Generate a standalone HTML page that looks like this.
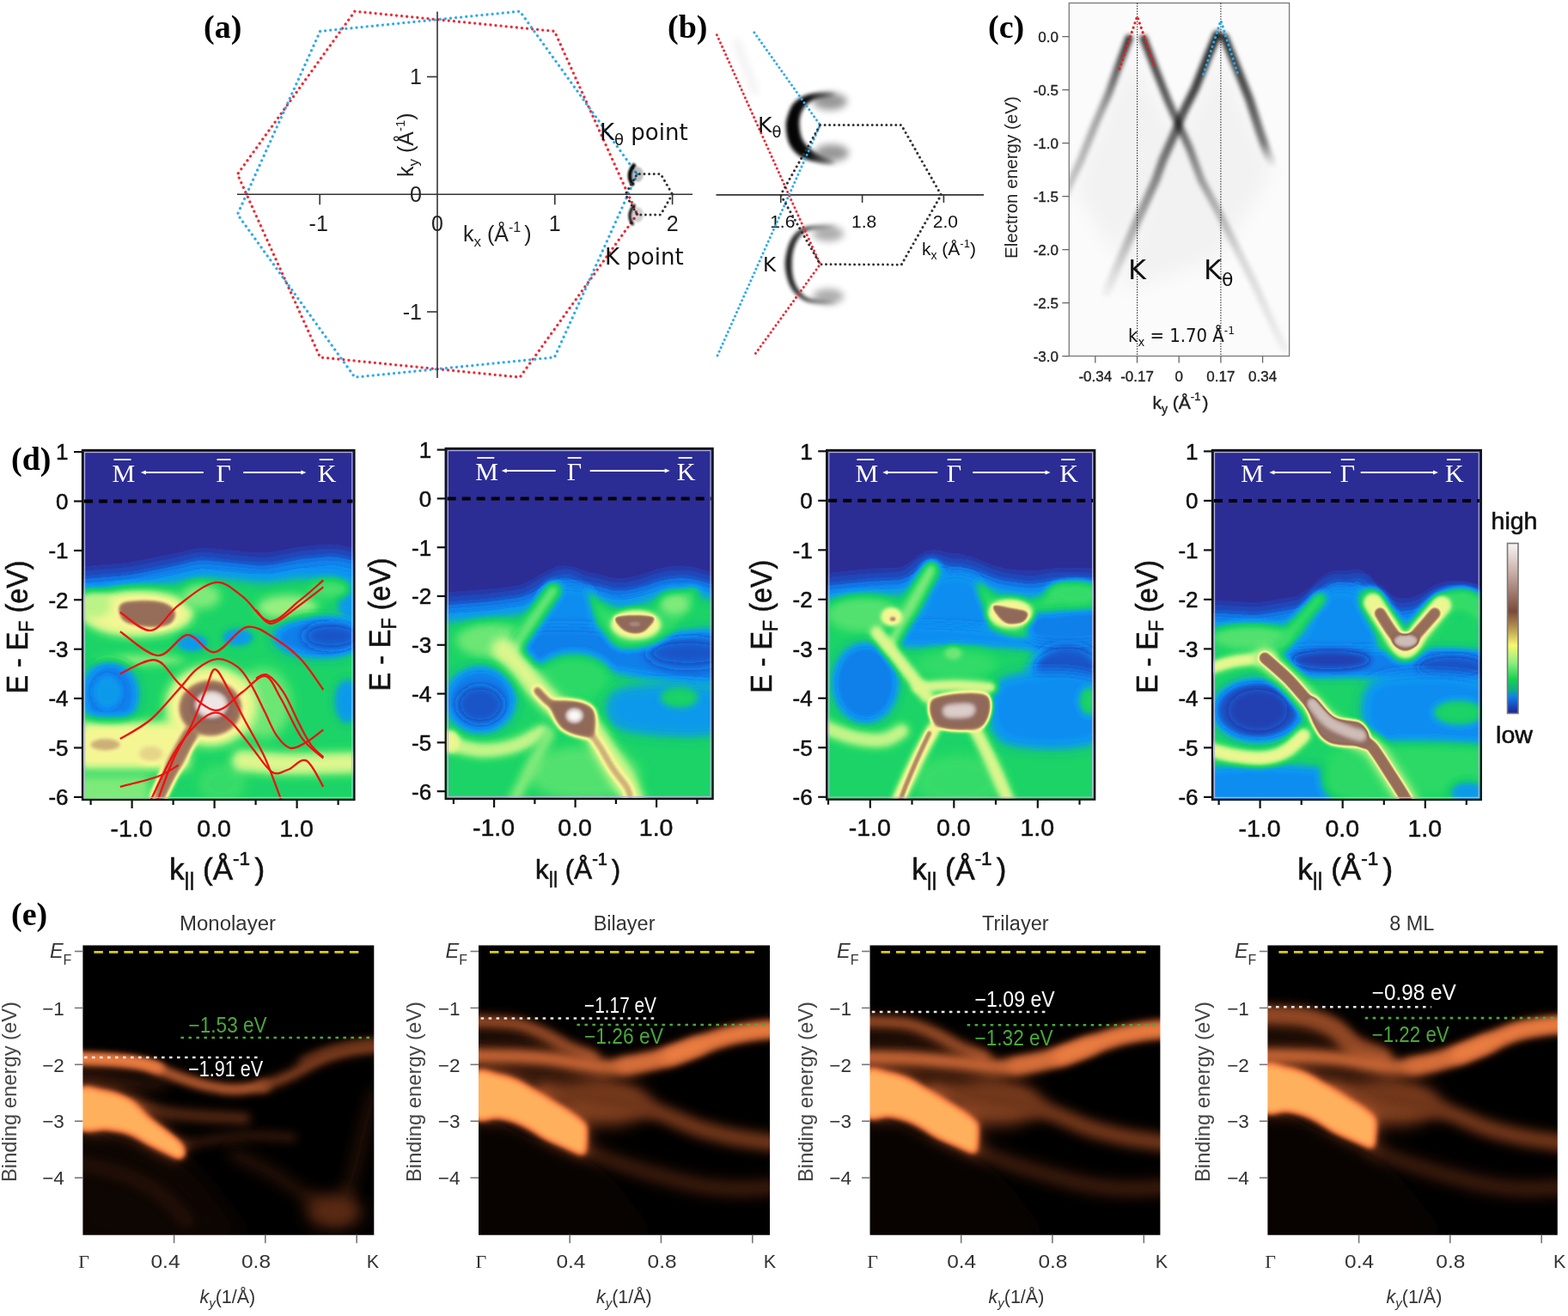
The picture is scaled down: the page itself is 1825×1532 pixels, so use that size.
<!DOCTYPE html><html><head><meta charset="utf-8"><title>Figure</title><style>html,body{margin:0;padding:0;background:#fff;width:1825px;height:1532px;overflow:hidden}svg{display:block}</style></head><body><svg width="1825" height="1532" viewBox="0 0 1825 1532">
<defs><filter id="blur1" x="-50%" y="-50%" width="200%" height="200%"><feGaussianBlur stdDeviation="1"/></filter><filter id="blur3" x="-50%" y="-50%" width="200%" height="200%"><feGaussianBlur stdDeviation="3"/></filter><filter id="blur4" x="-50%" y="-50%" width="200%" height="200%"><feGaussianBlur stdDeviation="4"/></filter><filter id="blur1_8" filterUnits="userSpaceOnUse" x="0" y="0" width="1825" height="1532"><feGaussianBlur stdDeviation="2.2"/></filter><filter id="blur2" filterUnits="userSpaceOnUse" x="0" y="0" width="1825" height="1532"><feGaussianBlur stdDeviation="2.8"/></filter><filter id="blur8" filterUnits="userSpaceOnUse" x="0" y="0" width="1825" height="1532"><feGaussianBlur stdDeviation="12"/></filter><clipPath id="clipc"><rect x="1244.3" y="3.5" width="256.3" height="411"/></clipPath></defs>
<rect width="100%" height="100%" fill="#fff"/>
<defs>
<filter id="cmapD" x="0" y="0" width="100%" height="100%" color-interpolation-filters="sRGB"><feComponentTransfer><feFuncR type="table" tableValues="0.173 0.153 0.127 0.093 0.067 0.049 0.056 0.069 0.086 0.094 0.135 0.227 0.319 0.451 0.591 0.728 0.863 0.952 0.960 0.941 0.888 0.810 0.708 0.630 0.569 0.566 0.590 0.659 0.742 0.819 0.875 0.932 0.988"/><feFuncG type="table" tableValues="0.176 0.218 0.275 0.356 0.471 0.582 0.648 0.716 0.784 0.819 0.847 0.865 0.883 0.910 0.938 0.955 0.966 0.970 0.961 0.916 0.822 0.704 0.565 0.473 0.412 0.417 0.454 0.544 0.651 0.752 0.828 0.904 0.980"/><feFuncB type="table" tableValues="0.588 0.650 0.721 0.806 0.902 0.956 0.833 0.667 0.471 0.417 0.393 0.414 0.436 0.469 0.504 0.532 0.557 0.575 0.584 0.570 0.529 0.476 0.410 0.370 0.345 0.368 0.413 0.510 0.623 0.730 0.814 0.897 0.980"/></feComponentTransfer></filter>
<filter id="cmapE" x="0" y="0" width="100%" height="100%" color-interpolation-filters="sRGB"><feComponentTransfer><feFuncR type="table" tableValues="0.000 0.020 0.039 0.059 0.090 0.125 0.159 0.199 0.243 0.287 0.334 0.386 0.437 0.489 0.542 0.594 0.647 0.696 0.745 0.794 0.832 0.868 0.903 0.927 0.943 0.959 0.971 0.977 0.983 0.989 0.993 0.996 1.000"/><feFuncG type="table" tableValues="0.000 0.009 0.017 0.026 0.040 0.056 0.072 0.091 0.112 0.133 0.156 0.185 0.213 0.241 0.269 0.297 0.325 0.352 0.379 0.406 0.430 0.454 0.477 0.500 0.522 0.544 0.566 0.588 0.610 0.632 0.652 0.673 0.694"/><feFuncB type="table" tableValues="0.000 0.004 0.007 0.011 0.018 0.025 0.032 0.041 0.051 0.061 0.073 0.089 0.105 0.121 0.137 0.153 0.169 0.183 0.198 0.213 0.225 0.236 0.247 0.260 0.275 0.289 0.302 0.313 0.325 0.335 0.345 0.355 0.365"/></feComponentTransfer></filter>
<filter id="b10_5" filterUnits="userSpaceOnUse" x="-50" y="-50" width="1925" height="1632"><feGaussianBlur stdDeviation="10.5"/></filter>
<filter id="b8_0" filterUnits="userSpaceOnUse" x="-50" y="-50" width="1925" height="1632"><feGaussianBlur stdDeviation="8.0"/></filter>
<filter id="b7_0" filterUnits="userSpaceOnUse" x="-50" y="-50" width="1925" height="1632"><feGaussianBlur stdDeviation="7.0"/></filter>
<filter id="b4_0" filterUnits="userSpaceOnUse" x="-50" y="-50" width="1925" height="1632"><feGaussianBlur stdDeviation="4.0"/></filter>
<filter id="b6_0" filterUnits="userSpaceOnUse" x="-50" y="-50" width="1925" height="1632"><feGaussianBlur stdDeviation="6.0"/></filter>
<filter id="b5_0" filterUnits="userSpaceOnUse" x="-50" y="-50" width="1925" height="1632"><feGaussianBlur stdDeviation="5.0"/></filter>
<filter id="b2_5" filterUnits="userSpaceOnUse" x="-50" y="-50" width="1925" height="1632"><feGaussianBlur stdDeviation="2.5"/></filter>
<filter id="b5_5" filterUnits="userSpaceOnUse" x="-50" y="-50" width="1925" height="1632"><feGaussianBlur stdDeviation="5.5"/></filter>
<filter id="b3_0" filterUnits="userSpaceOnUse" x="-50" y="-50" width="1925" height="1632"><feGaussianBlur stdDeviation="3.0"/></filter>
<filter id="b6_5" filterUnits="userSpaceOnUse" x="-50" y="-50" width="1925" height="1632"><feGaussianBlur stdDeviation="6.5"/></filter>
<filter id="b3_5" filterUnits="userSpaceOnUse" x="-50" y="-50" width="1925" height="1632"><feGaussianBlur stdDeviation="3.5"/></filter>
<filter id="b1_5" filterUnits="userSpaceOnUse" x="-50" y="-50" width="1925" height="1632"><feGaussianBlur stdDeviation="1.5"/></filter>
<filter id="b2_0" filterUnits="userSpaceOnUse" x="-50" y="-50" width="1925" height="1632"><feGaussianBlur stdDeviation="2.0"/></filter>
<filter id="b13_5" filterUnits="userSpaceOnUse" x="-50" y="-50" width="1925" height="1632"><feGaussianBlur stdDeviation="13.5"/></filter>
<filter id="b10_0" filterUnits="userSpaceOnUse" x="-50" y="-50" width="1925" height="1632"><feGaussianBlur stdDeviation="10.0"/></filter>
<filter id="b11_0" filterUnits="userSpaceOnUse" x="-50" y="-50" width="1925" height="1632"><feGaussianBlur stdDeviation="11.0"/></filter>
</defs>
<text x="237.0" y="43.5" font-family="'Liberation Serif', 'Times New Roman', serif" font-size="38" text-anchor="start" fill="#000" font-weight="bold" font-style="normal" >(a)</text>
<path d="M741.6,249.5 L605.1,439.2 L372.6,416.0 L276.4,202.9 L412.9,13.2 L645.4,36.4 Z" fill="none" stroke="#ee2a36" stroke-width="3.3" stroke-linecap="round" stroke-dasharray="0.01 6.1"/>
<path d="M741.6,202.9 L645.4,416.0 L412.9,439.2 L276.4,249.5 L372.6,36.4 L605.1,13.2 Z" fill="none" stroke="#2eaaf0" stroke-width="3.3" stroke-linecap="round" stroke-dasharray="0.01 6.1"/>
<line x1="276.0" y1="226.2" x2="806.0" y2="226.2" stroke="#333" stroke-width="1.6" />
<line x1="509.0" y1="13.5" x2="509.0" y2="440.0" stroke="#333" stroke-width="1.6" />
<line x1="372.2" y1="226.2" x2="372.2" y2="238.2" stroke="#333" stroke-width="1.6" />
<line x1="645.8" y1="226.2" x2="645.8" y2="238.2" stroke="#333" stroke-width="1.6" />
<line x1="782.6" y1="226.2" x2="782.6" y2="238.2" stroke="#333" stroke-width="1.6" />
<line x1="497.0" y1="89.4" x2="509.0" y2="89.4" stroke="#333" stroke-width="1.6" />
<line x1="497.0" y1="363.0" x2="509.0" y2="363.0" stroke="#333" stroke-width="1.6" />
<text x="370.7" y="269.0" font-family="'Liberation Sans', Arial, sans-serif" font-size="25" text-anchor="middle" fill="#222" font-weight="normal" font-style="normal" >-1</text>
<text x="509.0" y="269.0" font-family="'Liberation Sans', Arial, sans-serif" font-size="25" text-anchor="middle" fill="#222" font-weight="normal" font-style="normal" >0</text>
<text x="645.8" y="269.0" font-family="'Liberation Sans', Arial, sans-serif" font-size="25" text-anchor="middle" fill="#222" font-weight="normal" font-style="normal" >1</text>
<text x="782.6" y="269.0" font-family="'Liberation Sans', Arial, sans-serif" font-size="25" text-anchor="middle" fill="#222" font-weight="normal" font-style="normal" >2</text>
<text x="491.0" y="98.0" font-family="'Liberation Sans', Arial, sans-serif" font-size="25" text-anchor="end" fill="#222" font-weight="normal" font-style="normal" >1</text>
<text x="491.0" y="235.0" font-family="'Liberation Sans', Arial, sans-serif" font-size="25" text-anchor="end" fill="#222" font-weight="normal" font-style="normal" >0</text>
<text x="491.0" y="372.0" font-family="'Liberation Sans', Arial, sans-serif" font-size="25" text-anchor="end" fill="#222" font-weight="normal" font-style="normal" >-1</text>
<text x="539" y="280.5" font-family="'Liberation Sans', Arial, sans-serif" font-size="25" fill="#222">k<tspan font-size="17" dy="6">x</tspan><tspan dy="-6"> (Å</tspan><tspan font-size="16" dy="-11">-1</tspan><tspan dy="11" dx="4">)</tspan></text>
<text transform="translate(481,206) rotate(-90)" x="0" y="0" font-family="'Liberation Sans', Arial, sans-serif" font-size="25" fill="#222">k<tspan font-size="17" dy="6">y</tspan><tspan dy="-6"> (Å</tspan><tspan font-size="15" dy="-10">-1</tspan><tspan dy="10">)</tspan></text>
<g filter="url(#blur1)">
<ellipse cx="742" cy="203" rx="7" ry="9" fill="#000" opacity="0.25"/>
<ellipse cx="742" cy="250" rx="7" ry="9" fill="#000" opacity="0.18"/>
<path d="M739,191 Q728,203 737,216" fill="none" stroke="#000" stroke-width="4.5"/>
<path d="M739,238 Q728,250 737,262" fill="none" stroke="#111" stroke-width="3.2"/>
</g>
<path d="M782.6,226.2 L768.9,249.9 L741.6,249.9 L727.9,226.2 L741.6,202.5 L768.9,202.5 Z" fill="none" stroke="#333" stroke-width="3.0" stroke-linecap="round" stroke-dasharray="0.01 5.6"/>
<text x="698" y="163" font-family="'DejaVu Sans', 'Liberation Sans', sans-serif" font-size="26" fill="#111">K<tspan font-size="18" dy="6">θ</tspan><tspan dy="-6"> point</tspan></text>
<text x="704.0" y="307.5" font-family="'DejaVu Sans', 'Liberation Sans', sans-serif" font-size="26" text-anchor="start" fill="#111" font-weight="normal" font-style="normal" >K point</text>
<text x="777.0" y="43.5" font-family="'Liberation Serif', 'Times New Roman', serif" font-size="38" text-anchor="start" fill="#000" font-weight="bold" font-style="normal" >(b)</text>
<defs><linearGradient id="crg" gradientUnits="userSpaceOnUse" x1="912" y1="0" x2="978" y2="0"><stop offset="0" stop-color="#000" stop-opacity="1"/><stop offset="0.45" stop-color="#000" stop-opacity="0.95"/><stop offset="0.7" stop-color="#000" stop-opacity="0.55"/><stop offset="1" stop-color="#000" stop-opacity="0"/></linearGradient><linearGradient id="crg2" gradientUnits="userSpaceOnUse" x1="912" y1="0" x2="978" y2="0"><stop offset="0" stop-color="#000" stop-opacity="0.9"/><stop offset="0.35" stop-color="#000" stop-opacity="0.8"/><stop offset="0.6" stop-color="#000" stop-opacity="0.4"/><stop offset="1" stop-color="#000" stop-opacity="0"/></linearGradient></defs>
<g filter="url(#blur4)" opacity="0.4">
<ellipse cx="966" cy="118" rx="20" ry="10" fill="#000"/><ellipse cx="968" cy="178" rx="20" ry="10" fill="#000"/>
<ellipse cx="964" cy="272" rx="18" ry="9" fill="#000" opacity="0.8"/><ellipse cx="964" cy="345" rx="18" ry="9" fill="#000" opacity="0.8"/>
</g>
<g filter="url(#blur1_8)">
<path d="M969.7,107.4 C965.1,106.9 949.7,107.4 942.2,109.4 C934.7,111.4 928.8,115.0 924.6,119.2 C920.4,123.4 918.4,130.2 916.8,134.8 C915.2,139.4 914.8,142.0 914.8,146.6 C914.8,151.2 915.5,157.6 916.8,162.2 C918.1,166.8 919.8,170.4 922.7,174.0 C925.6,177.6 929.2,181.2 934.4,183.8 C939.6,186.4 948.1,188.4 954.0,189.7 C959.9,191.0 967.1,192.1 969.7,191.6 C972.3,191.1 972.3,188.5 969.7,186.7 C967.1,184.9 958.7,183.2 954.0,180.8 C949.3,178.4 944.9,175.3 941.5,172.0 C938.1,168.7 935.3,165.4 933.5,161.2 C931.7,157.0 930.8,151.3 930.5,146.6 C930.2,141.9 930.5,137.2 932.0,132.9 C933.5,128.7 936.3,124.0 939.3,121.1 C942.3,118.1 945.0,116.7 950.1,115.2 C955.2,113.7 966.4,113.6 969.7,112.3 C973.0,111.0 974.3,107.9 969.7,107.4 Z" fill="url(#crg)"/>
<path d="M969.7,262.1 C965.1,261.6 949.4,261.6 942.2,263.1 C935.0,264.6 930.7,267.1 926.6,270.9 C922.5,274.6 919.9,279.5 917.8,285.6 C915.7,291.7 913.8,300.5 913.8,307.7 C913.8,314.9 915.7,322.9 917.8,328.7 C919.9,334.5 922.5,338.5 926.6,342.4 C930.7,346.3 935.0,350.2 942.2,352.2 C949.4,354.1 965.1,354.4 969.7,354.1 C974.3,353.8 974.3,351.3 969.7,350.2 C965.1,349.1 948.7,349.2 942.2,347.3 C935.7,345.4 933.6,342.2 930.5,338.5 C927.4,334.8 925.1,329.9 923.6,324.8 C922.1,319.7 921.7,313.4 921.7,307.7 C921.7,302.0 922.1,295.8 923.6,290.5 C925.1,285.2 927.4,279.6 930.5,275.8 C933.6,272.1 935.7,269.6 942.2,268.0 C948.7,266.4 965.1,267.0 969.7,266.0 C974.3,265.0 974.3,262.6 969.7,262.1 Z" fill="url(#crg2)"/>
</g>
<g filter="url(#blur4)" opacity="0.05"><path d="M856,45 L880,110" stroke="#000" stroke-width="9"/></g>
<line x1="833.5" y1="226.9" x2="1145.0" y2="226.9" stroke="#333" stroke-width="1.6" />
<line x1="908.8" y1="226.9" x2="908.8" y2="235.9" stroke="#333" stroke-width="1.6" />
<line x1="1003.6" y1="226.9" x2="1003.6" y2="235.9" stroke="#333" stroke-width="1.6" />
<line x1="1098.4" y1="226.9" x2="1098.4" y2="235.9" stroke="#333" stroke-width="1.6" />
<text x="910.8" y="265.0" font-family="'Liberation Sans', Arial, sans-serif" font-size="21" text-anchor="middle" fill="#111" font-weight="normal" font-style="normal" >1.6</text>
<text x="1005.6" y="265.0" font-family="'Liberation Sans', Arial, sans-serif" font-size="21" text-anchor="middle" fill="#111" font-weight="normal" font-style="normal" >1.8</text>
<text x="1100.4" y="265.0" font-family="'Liberation Sans', Arial, sans-serif" font-size="21" text-anchor="middle" fill="#111" font-weight="normal" font-style="normal" >2.0</text>
<path d="M834.4,40.7 L954.6,307.7 L876.5,415.4" fill="none" stroke="#ee2a36" stroke-width="3.0" stroke-linecap="round" stroke-dasharray="0.01 5.0"/>
<path d="M877.9,37.9 L954.6,145.6 L834.4,415.4" fill="none" stroke="#2eaaf0" stroke-width="3.0" stroke-linecap="round" stroke-dasharray="0.01 5.0"/>
<path d="M954.6,145.6 L1049.1,145.6 L1095.4,226.9 L1049.1,308.2 L954.6,307.7 L908.6,226.9 Z" fill="none" stroke="#333" stroke-width="3.0" stroke-linecap="round" stroke-dasharray="0.01 5.5"/>
<text x="882" y="153.5" font-family="'DejaVu Sans', 'Liberation Sans', sans-serif" font-size="25" fill="#111">K<tspan font-size="18" dy="6">θ</tspan></text>
<text x="888.0" y="316.0" font-family="'DejaVu Sans', 'Liberation Sans', sans-serif" font-size="23" text-anchor="start" fill="#111" font-weight="normal" font-style="normal" >K</text>
<text x="1073" y="297" font-family="'Liberation Sans', Arial, sans-serif" font-size="21" fill="#111">k<tspan font-size="14" dy="5">x</tspan><tspan dy="-5"> (Å</tspan><tspan font-size="13" dy="-9">-1</tspan><tspan dy="9">)</tspan></text>
<text x="1150.0" y="43.5" font-family="'Liberation Serif', 'Times New Roman', serif" font-size="38" text-anchor="start" fill="#000" font-weight="bold" font-style="normal" >(c)</text>
<rect x="1244.3" y="3.5" width="256.29999999999995" height="411.0" fill="#fbfbfb"/>
<g clip-path="url(#clipc)">
<g filter="url(#blur8)" opacity="0.035">
<path d="M1316,60 L1250,220 L1300,300 L1372,160 Z" fill="#000"/>
<path d="M1420,60 L1340,230 L1300,340 L1420,300 L1480,200 Z" fill="#000"/>
</g>
<defs>
<linearGradient id="cg0" gradientUnits="userSpaceOnUse" x1="1314.1" y1="44.7" x2="1238" y2="230"><stop offset="0" stop-color="#000" stop-opacity="0.8"/><stop offset="0.2" stop-color="#000" stop-opacity="0.6"/><stop offset="0.45" stop-color="#000" stop-opacity="0.35"/><stop offset="1" stop-color="#000" stop-opacity="0.18"/></linearGradient>
<linearGradient id="cg1" gradientUnits="userSpaceOnUse" x1="1331" y1="44.7" x2="1495" y2="405"><stop offset="0" stop-color="#000" stop-opacity="0.75"/><stop offset="0.3" stop-color="#000" stop-opacity="0.55"/><stop offset="0.5" stop-color="#000" stop-opacity="0.3"/><stop offset="0.7" stop-color="#000" stop-opacity="0.14"/><stop offset="1" stop-color="#000" stop-opacity="0.05"/></linearGradient>
<linearGradient id="cg2" gradientUnits="userSpaceOnUse" x1="1416.5" y1="40.5" x2="1288" y2="340"><stop offset="0" stop-color="#000" stop-opacity="0.85"/><stop offset="0.25" stop-color="#000" stop-opacity="0.7"/><stop offset="0.5" stop-color="#000" stop-opacity="0.5"/><stop offset="0.75" stop-color="#000" stop-opacity="0.3"/><stop offset="1" stop-color="#000" stop-opacity="0.05"/></linearGradient>
<linearGradient id="cg3" gradientUnits="userSpaceOnUse" x1="1425" y1="43.3" x2="1480" y2="188"><stop offset="0" stop-color="#000" stop-opacity="0.8"/><stop offset="0.5" stop-color="#000" stop-opacity="0.65"/><stop offset="0.85" stop-color="#000" stop-opacity="0.5"/><stop offset="1" stop-color="#000" stop-opacity="0.08"/></linearGradient>
</defs>
<g filter="url(#blur2)">
<path d="M1314.1,44.7 L1302.9,74.1 L1290.3,109.2 L1274.9,144.3 L1258.0,186.4 L1246.8,210.0 L1238.0,230.0" fill="none" stroke="url(#cg0)" stroke-width="9" stroke-linecap="round" stroke-linejoin="round"/>
<path d="M1331.0,44.7 L1345.0,81.2 L1359.0,116.2 L1370.2,141.5 L1384.3,172.3 L1398.3,210.0 L1418.2,246.7 L1459.3,329.0 L1486.7,389.0 L1495.0,405.0" fill="none" stroke="url(#cg1)" stroke-width="9" stroke-linecap="round" stroke-linejoin="round"/>
<path d="M1416.5,40.5 L1405.3,67.1 L1391.3,102.2 L1377.3,130.2 L1366.0,158.3 L1353.4,186.4 L1345.0,210.0 L1322.2,260.4 L1294.8,323.5 L1288.0,340.0" fill="none" stroke="url(#cg2)" stroke-width="10" stroke-linecap="round" stroke-linejoin="round"/>
<path d="M1425.0,43.3 L1440.4,81.2 L1454.4,116.2 L1465.6,151.3 L1475.4,179.3 L1480.0,188.0" fill="none" stroke="url(#cg3)" stroke-width="10" stroke-linecap="round" stroke-linejoin="round"/>
</g></g>
<rect x="1244.3" y="3.5" width="256.29999999999995" height="411.0" fill="none" stroke="#777" stroke-width="1.3"/>
<line x1="1323.6" y1="3.5" x2="1323.6" y2="414.5" stroke="#333" stroke-width="1.1" stroke-dasharray="1.4 1.6"/>
<line x1="1420.9" y1="3.5" x2="1420.9" y2="414.5" stroke="#333" stroke-width="1.1" stroke-dasharray="1.4 1.6"/>
<path d="M1303.0,80.0 L1323.6,19.0 L1344.7,80.0" fill="none" stroke="#ee1c1c" stroke-width="3.2" stroke-linecap="round" stroke-dasharray="0.01 5.6"/>
<path d="M1400.7,86.4 L1420.9,24.0 L1440.7,86.4" fill="none" stroke="#22aaee" stroke-width="3.2" stroke-linecap="round" stroke-dasharray="0.01 5.6"/>
<line x1="1236.3" y1="42.6" x2="1244.3" y2="42.6" stroke="#666" stroke-width="1.3" />
<text x="1232.0" y="48.6" font-family="'Liberation Sans', Arial, sans-serif" font-size="17" text-anchor="end" fill="#222" font-weight="normal" font-style="normal" stroke="#222" stroke-width="0.35">0.0</text>
<line x1="1236.3" y1="104.6" x2="1244.3" y2="104.6" stroke="#666" stroke-width="1.3" />
<text x="1232.0" y="110.6" font-family="'Liberation Sans', Arial, sans-serif" font-size="17" text-anchor="end" fill="#222" font-weight="normal" font-style="normal" stroke="#222" stroke-width="0.35">-0.5</text>
<line x1="1236.3" y1="166.6" x2="1244.3" y2="166.6" stroke="#666" stroke-width="1.3" />
<text x="1232.0" y="172.6" font-family="'Liberation Sans', Arial, sans-serif" font-size="17" text-anchor="end" fill="#222" font-weight="normal" font-style="normal" stroke="#222" stroke-width="0.35">-1.0</text>
<line x1="1236.3" y1="228.6" x2="1244.3" y2="228.6" stroke="#666" stroke-width="1.3" />
<text x="1232.0" y="234.6" font-family="'Liberation Sans', Arial, sans-serif" font-size="17" text-anchor="end" fill="#222" font-weight="normal" font-style="normal" stroke="#222" stroke-width="0.35">-1.5</text>
<line x1="1236.3" y1="290.6" x2="1244.3" y2="290.6" stroke="#666" stroke-width="1.3" />
<text x="1232.0" y="296.6" font-family="'Liberation Sans', Arial, sans-serif" font-size="17" text-anchor="end" fill="#222" font-weight="normal" font-style="normal" stroke="#222" stroke-width="0.35">-2.0</text>
<line x1="1236.3" y1="352.6" x2="1244.3" y2="352.6" stroke="#666" stroke-width="1.3" />
<text x="1232.0" y="358.6" font-family="'Liberation Sans', Arial, sans-serif" font-size="17" text-anchor="end" fill="#222" font-weight="normal" font-style="normal" stroke="#222" stroke-width="0.35">-2.5</text>
<line x1="1236.3" y1="414.6" x2="1244.3" y2="414.6" stroke="#666" stroke-width="1.3" />
<text x="1232.0" y="420.6" font-family="'Liberation Sans', Arial, sans-serif" font-size="17" text-anchor="end" fill="#222" font-weight="normal" font-style="normal" stroke="#222" stroke-width="0.35">-3.0</text>
<line x1="1274.8" y1="414.5" x2="1274.8" y2="422.5" stroke="#666" stroke-width="1.3" />
<text x="1274.8" y="444.0" font-family="'Liberation Sans', Arial, sans-serif" font-size="17" text-anchor="middle" fill="#222" font-weight="normal" font-style="normal" stroke="#222" stroke-width="0.35">-0.34</text>
<line x1="1323.5" y1="414.5" x2="1323.5" y2="422.5" stroke="#666" stroke-width="1.3" />
<text x="1323.5" y="444.0" font-family="'Liberation Sans', Arial, sans-serif" font-size="17" text-anchor="middle" fill="#222" font-weight="normal" font-style="normal" stroke="#222" stroke-width="0.35">-0.17</text>
<line x1="1372.2" y1="414.5" x2="1372.2" y2="422.5" stroke="#666" stroke-width="1.3" />
<text x="1372.2" y="444.0" font-family="'Liberation Sans', Arial, sans-serif" font-size="17" text-anchor="middle" fill="#222" font-weight="normal" font-style="normal" stroke="#222" stroke-width="0.35">0</text>
<line x1="1420.9" y1="414.5" x2="1420.9" y2="422.5" stroke="#666" stroke-width="1.3" />
<text x="1420.9" y="444.0" font-family="'Liberation Sans', Arial, sans-serif" font-size="17" text-anchor="middle" fill="#222" font-weight="normal" font-style="normal" stroke="#222" stroke-width="0.35">0.17</text>
<line x1="1469.6" y1="414.5" x2="1469.6" y2="422.5" stroke="#666" stroke-width="1.3" />
<text x="1469.6" y="444.0" font-family="'Liberation Sans', Arial, sans-serif" font-size="17" text-anchor="middle" fill="#222" font-weight="normal" font-style="normal" stroke="#222" stroke-width="0.35">0.34</text>
<text x="1341.5" y="476" font-family="'Liberation Sans', Arial, sans-serif" font-size="21" fill="#222" stroke="#222" stroke-width="0.4">k<tspan font-size="14" dy="5">y</tspan><tspan dy="-5"> (Å</tspan><tspan font-size="13" dy="-10">-1</tspan><tspan dy="10" dx="2">)</tspan></text>
<text transform="translate(1184,301) rotate(-90)" font-family="'Liberation Sans', Arial, sans-serif" font-size="20.6" fill="#222">Electron energy (eV)</text>
<text x="1313.0" y="325.0" font-family="'DejaVu Sans', 'Liberation Sans', sans-serif" font-size="32" text-anchor="start" fill="#111" font-weight="normal" font-style="normal" >K</text>
<text x="1401" y="325" font-family="'DejaVu Sans', 'Liberation Sans', sans-serif" font-size="32" fill="#111">K<tspan font-size="22" dy="8">θ</tspan></text>
<text x="1313" y="397.5" font-family="'DejaVu Sans', 'Liberation Sans', sans-serif" font-size="21" fill="#111" textLength="124" lengthAdjust="spacingAndGlyphs">k<tspan font-size="14" dy="5">x</tspan><tspan dy="-5"> = 1.70 Å</tspan><tspan font-size="13" dy="-9">-1</tspan></text>
<text x="13.0" y="546.7" font-family="'Liberation Serif', 'Times New Roman', serif" font-size="38" text-anchor="start" fill="#000" font-weight="bold" font-style="normal" >(d)</text>
<clipPath id="clipd0"><rect x="96.0" y="524.0" width="316.4" height="407.0"/></clipPath>
<g clip-path="url(#clipd0)"><g filter="url(#cmapD)"><rect x="76.0" y="504.0" width="356.4" height="447.0" fill="#000"/>
<path d="M82.7,984.2 L82.7,667.5 L149.1,662.2 L202.3,651.5 L234.2,643.6 L255.4,646.2 L308.6,651.5 L348.4,643.6 L388.3,639.6 L428.1,648.9 L466.1,984.2 Z" fill="rgb(18,18,18)" filter="url(#b10_5)"/>
<path d="M82.7,984.2 L82.7,675.5 L149.1,670.1 L202.3,659.5 L234.2,651.5 L255.4,654.2 L308.6,659.5 L348.4,651.5 L388.3,647.6 L428.1,656.9 L466.1,984.2 Z" fill="rgb(38,38,38)" filter="url(#b8_0)"/>
<path d="M82.7,984.2 L82.7,692.7 L149.1,687.4 L202.3,679.4 L234.2,674.1 L255.4,674.1 L308.6,679.4 L348.4,674.1 L388.3,674.1 L428.1,684.8 L466.1,984.2 Z" fill="rgb(76,76,76)" filter="url(#b7_0)"/>
<ellipse cx="413.0" cy="699.4" rx="21.3" ry="23.9" fill="rgb(41,41,41)" filter="url(#b4_0)"/>
<ellipse cx="159.8" cy="714.0" rx="66.4" ry="27.9" fill="rgb(135,135,135)" filter="url(#b6_0)"/>
<ellipse cx="106.6" cy="704.7" rx="23.9" ry="15.9" fill="rgb(120,120,120)" filter="url(#b5_0)"/>
<path d="M141.2,702.0 C147.8,698.0 173.3,698.0 183.7,699.4 C194.1,700.7 201.0,705.6 203.6,710.0 C206.3,714.4 204.3,722.5 199.6,725.9 C195.0,729.4 185.0,731.2 175.7,730.7 C166.4,730.3 149.6,728.1 143.8,723.3 C138.1,718.5 134.5,706.0 141.2,702.0 Z" fill="rgb(189,189,189)" filter="url(#b2_5)"/>
<ellipse cx="234.2" cy="694.1" rx="23.9" ry="15.9" fill="rgb(107,107,107)" filter="url(#b5_5)"/>
<ellipse cx="335.1" cy="707.3" rx="37.2" ry="15.9" fill="rgb(112,112,112)" filter="url(#b5_5)"/>
<ellipse cx="383.0" cy="686.1" rx="23.9" ry="10.6" fill="rgb(92,92,92)" filter="url(#b4_0)"/>
<ellipse cx="372.3" cy="741.9" rx="55.8" ry="25.2" fill="rgb(33,33,33)" filter="url(#b6_0)"/>
<ellipse cx="385.6" cy="740.6" rx="31.9" ry="14.6" fill="rgb(22,22,22)" filter="url(#b6_0)"/>
<ellipse cx="223.5" cy="748.5" rx="18.6" ry="10.6" fill="rgb(41,41,41)" filter="url(#b3_0)"/>
<ellipse cx="276.7" cy="741.9" rx="18.6" ry="10.6" fill="rgb(43,43,43)" filter="url(#b3_0)"/>
<ellipse cx="162.4" cy="768.5" rx="53.1" ry="8.0" fill="rgb(107,107,107)" filter="url(#b4_0)"/>
<ellipse cx="127.9" cy="808.3" rx="34.5" ry="39.9" fill="rgb(36,36,36)" filter="url(#b5_5)"/>
<ellipse cx="125.2" cy="805.7" rx="15.9" ry="18.6" fill="rgb(41,41,41)" filter="url(#b3_0)"/>
<ellipse cx="305.9" cy="818.9" rx="34.5" ry="42.5" fill="rgb(102,102,102)" filter="url(#b6_5)"/>
<rect x="90.7" y="840.2" width="130.2" height="55.8" fill="rgb(138,138,138)" filter="url(#b6_5)"/>
<ellipse cx="122.6" cy="866.8" rx="18.6" ry="8.0" fill="rgb(168,168,168)" filter="url(#b2_5)"/>
<ellipse cx="175.7" cy="877.4" rx="15.9" ry="10.6" fill="rgb(158,158,158)" filter="url(#b3_0)"/>
<ellipse cx="244.8" cy="821.6" rx="53.1" ry="47.8" fill="rgb(135,135,135)" filter="url(#b6_5)"/>
<ellipse cx="244.8" cy="824.3" rx="37.2" ry="33.2" fill="rgb(189,189,189)" filter="url(#b3_0)"/>
<path d="M220.9,856.1 C217.8,861.9 208.5,878.7 202.3,890.7 C196.1,902.6 186.8,921.7 183.7,927.9" fill="none" stroke="rgb(184,184,184)" stroke-width="19.9" stroke-linecap="round" stroke-linejoin="round" filter="url(#b2_5)"/>
<ellipse cx="246.1" cy="820.3" rx="19.9" ry="16.5" fill="rgb(247,247,247)" filter="url(#b3_5)"/>
<rect x="90.7" y="901.3" width="85.0" height="37.2" fill="rgb(107,107,107)" filter="url(#b6_0)"/>
<ellipse cx="258.1" cy="911.9" rx="29.2" ry="23.9" fill="rgb(87,87,87)" filter="url(#b5_5)"/>
<ellipse cx="404.2" cy="816.3" rx="15.9" ry="26.6" fill="rgb(41,41,41)" filter="url(#b4_0)"/>
<path d="M282.0,885.4 C290.9,886.0 313.3,888.9 335.1,889.4 C357.0,889.8 400.0,888.3 413.0,888.0" fill="none" stroke="rgb(128,128,128)" stroke-width="26.6" stroke-linecap="round" stroke-linejoin="round" filter="url(#b5_5)"/>
</g></g>
<g clip-path="url(#clipd0)"><path d="M139.8,712.7 C145.8,716.2 164.4,735.2 175.7,733.9 C187.0,732.6 195.2,714.0 207.6,704.7 C220.0,695.4 237.7,679.9 250.1,678.1 C262.5,676.3 271.4,686.5 282.0,694.1 C292.6,701.6 302.8,722.4 313.9,723.3 C325.0,724.2 338.0,707.3 348.4,699.4 C358.8,691.4 371.7,679.4 376.3,675.5" fill="none" stroke="#f01010" stroke-width="2.3"/>
<path d="M297.9,710.0 C301.0,712.7 308.1,726.8 316.5,725.9 C325.0,725.1 338.5,711.8 348.4,704.7 C358.4,697.6 371.7,687.0 376.3,683.4" fill="none" stroke="#f01010" stroke-width="2.3"/>
<path d="M139.8,735.2 C147.2,739.9 170.6,762.5 183.7,763.1 C196.8,763.8 207.2,739.9 218.2,739.2 C229.3,738.6 238.6,760.7 250.1,759.2 C261.6,757.6 275.4,732.4 287.3,729.9 C299.3,727.5 311.2,738.1 321.9,744.5 C332.5,751.0 342.0,758.7 351.1,768.5 C360.2,778.2 372.1,797.2 376.3,803.0" fill="none" stroke="#f01010" stroke-width="2.3"/>
<path d="M139.8,784.4 C146.7,781.7 169.3,766.2 181.0,768.5 C192.8,770.7 198.7,787.9 210.3,797.7 C221.8,807.4 238.2,825.6 250.1,826.9 C262.1,828.2 272.3,812.3 282.0,805.7 C291.7,799.0 301.0,785.7 308.6,787.1 C316.1,788.4 320.1,801.7 327.2,813.6 C334.3,825.6 342.9,847.3 351.1,858.8 C359.3,870.3 372.1,878.7 376.3,882.7" fill="none" stroke="#f01010" stroke-width="2.3"/>
<path d="M297.9,789.7 C300.2,789.1 305.9,783.1 311.2,785.7 C316.5,788.4 323.6,796.1 329.8,805.7 C336.0,815.2 343.1,832.7 348.4,842.9 C353.7,853.0 357.1,860.4 361.7,866.8 C366.4,873.2 373.9,879.0 376.3,881.4" fill="none" stroke="#f01010" stroke-width="2.3"/>
<path d="M139.8,860.1 C145.8,856.4 164.4,847.1 175.7,837.5 C187.0,828.0 198.7,812.7 207.6,803.0 C216.5,793.3 221.3,785.1 228.9,779.1 C236.4,773.1 244.8,767.6 252.8,767.1 C260.7,766.7 270.0,771.3 276.7,776.4 C283.3,781.5 287.3,788.8 292.6,797.7 C297.9,806.5 303.7,819.8 308.6,829.6 C313.4,839.3 317.0,849.3 321.9,856.1 C326.7,863.0 332.0,869.4 337.8,870.8 C343.6,872.1 350.0,867.7 356.4,864.1 C362.8,860.6 373.0,851.9 376.3,849.5" fill="none" stroke="#f01010" stroke-width="2.3"/>
<path d="M183.7,931.1 C186.8,923.0 195.6,897.4 202.3,882.7 C208.9,868.0 217.3,856.1 223.5,842.9 C229.7,829.6 235.1,813.6 239.5,803.0 C243.9,792.4 245.7,779.1 250.1,779.1 C254.5,779.1 259.9,792.4 266.1,803.0 C272.3,813.6 280.2,829.6 287.3,842.9 C294.4,856.1 301.9,868.0 308.6,882.7 C315.2,897.4 324.1,923.0 327.2,931.1" fill="none" stroke="#f01010" stroke-width="2.3"/>
<path d="M175.7,931.1 C180.1,922.1 193.4,892.1 202.3,877.4 C211.1,862.7 220.9,850.8 228.9,842.9 C236.8,834.9 243.5,830.0 250.1,829.6 C256.8,829.1 261.6,833.6 268.7,840.2 C275.8,846.8 284.7,859.7 292.6,869.4 C300.6,879.2 309.5,894.2 316.5,898.7 C323.6,903.1 328.5,898.2 335.1,896.0 C341.8,893.8 349.5,882.1 356.4,885.4 C363.3,888.7 373.0,910.8 376.3,915.9" fill="none" stroke="#f01010" stroke-width="2.3"/>
<path d="M139.8,915.9 C147.2,913.9 172.4,908.2 183.7,904.0 C195.0,899.8 203.6,892.9 207.6,890.7" fill="none" stroke="#f01010" stroke-width="2.3"/></g>
<rect x="98.6" y="526.6" width="311.2" height="401.8" fill="none" stroke="#b8b8e0" stroke-width="1.1"/>
<rect x="96.0" y="524.0" width="316.4" height="407.0" fill="none" stroke="#111" stroke-width="2.3"/>
<line x1="98.0" y1="583.5" x2="410.4" y2="583.5" stroke="#000" stroke-width="4" stroke-dasharray="10 7"/>
<line x1="86.0" y1="526.1" x2="96.0" y2="526.1" stroke="#111" stroke-width="2.2" />
<text x="79.5" y="535.4" font-family="'Liberation Sans', Arial, sans-serif" font-size="26" text-anchor="end" fill="#111" font-weight="normal" font-style="normal" stroke="#111" stroke-width="0.5">1</text>
<line x1="86.0" y1="583.5" x2="96.0" y2="583.5" stroke="#111" stroke-width="2.2" />
<text x="79.5" y="592.8" font-family="'Liberation Sans', Arial, sans-serif" font-size="26" text-anchor="end" fill="#111" font-weight="normal" font-style="normal" stroke="#111" stroke-width="0.5">0</text>
<line x1="86.0" y1="640.9" x2="96.0" y2="640.9" stroke="#111" stroke-width="2.2" />
<text x="79.5" y="650.2" font-family="'Liberation Sans', Arial, sans-serif" font-size="26" text-anchor="end" fill="#111" font-weight="normal" font-style="normal" stroke="#111" stroke-width="0.5">-1</text>
<line x1="86.0" y1="698.3" x2="96.0" y2="698.3" stroke="#111" stroke-width="2.2" />
<text x="79.5" y="707.6" font-family="'Liberation Sans', Arial, sans-serif" font-size="26" text-anchor="end" fill="#111" font-weight="normal" font-style="normal" stroke="#111" stroke-width="0.5">-2</text>
<line x1="86.0" y1="755.7" x2="96.0" y2="755.7" stroke="#111" stroke-width="2.2" />
<text x="79.5" y="765.0" font-family="'Liberation Sans', Arial, sans-serif" font-size="26" text-anchor="end" fill="#111" font-weight="normal" font-style="normal" stroke="#111" stroke-width="0.5">-3</text>
<line x1="86.0" y1="813.1" x2="96.0" y2="813.1" stroke="#111" stroke-width="2.2" />
<text x="79.5" y="822.4" font-family="'Liberation Sans', Arial, sans-serif" font-size="26" text-anchor="end" fill="#111" font-weight="normal" font-style="normal" stroke="#111" stroke-width="0.5">-4</text>
<line x1="86.0" y1="870.5" x2="96.0" y2="870.5" stroke="#111" stroke-width="2.2" />
<text x="79.5" y="879.8" font-family="'Liberation Sans', Arial, sans-serif" font-size="26" text-anchor="end" fill="#111" font-weight="normal" font-style="normal" stroke="#111" stroke-width="0.5">-5</text>
<line x1="86.0" y1="927.9" x2="96.0" y2="927.9" stroke="#111" stroke-width="2.2" />
<text x="79.5" y="937.2" font-family="'Liberation Sans', Arial, sans-serif" font-size="26" text-anchor="end" fill="#111" font-weight="normal" font-style="normal" stroke="#111" stroke-width="0.5">-6</text>
<line x1="105.6" y1="931.0" x2="105.6" y2="937.0" stroke="#111" stroke-width="2.2" />
<line x1="153.6" y1="931.0" x2="153.6" y2="941.0" stroke="#111" stroke-width="2.2" />
<line x1="201.6" y1="931.0" x2="201.6" y2="937.0" stroke="#111" stroke-width="2.2" />
<line x1="249.6" y1="931.0" x2="249.6" y2="941.0" stroke="#111" stroke-width="2.2" />
<line x1="297.6" y1="931.0" x2="297.6" y2="937.0" stroke="#111" stroke-width="2.2" />
<line x1="345.6" y1="931.0" x2="345.6" y2="941.0" stroke="#111" stroke-width="2.2" />
<line x1="393.6" y1="931.0" x2="393.6" y2="937.0" stroke="#111" stroke-width="2.2" />
<text x="153.1" y="973.5" font-family="'Liberation Sans', Arial, sans-serif" font-size="28.5" text-anchor="middle" fill="#111" font-weight="normal" font-style="normal" stroke="#111" stroke-width="0.5">-1.0</text>
<text x="249.1" y="973.5" font-family="'Liberation Sans', Arial, sans-serif" font-size="28.5" text-anchor="middle" fill="#111" font-weight="normal" font-style="normal" stroke="#111" stroke-width="0.5">0.0</text>
<text x="345.1" y="973.5" font-family="'Liberation Sans', Arial, sans-serif" font-size="28.5" text-anchor="middle" fill="#111" font-weight="normal" font-style="normal" stroke="#111" stroke-width="0.5">1.0</text>
<text x="197.1" y="1024.0" font-family="'Liberation Sans', Arial, sans-serif" font-size="34.5" fill="#111" stroke="#111" stroke-width="0.6" textLength="111" lengthAdjust="spacingAndGlyphs">k<tspan font-size="22.1" dy="6.9">||</tspan><tspan dy="-6.9"> (Å</tspan><tspan font-size="22.1" dy="-17.2">-1</tspan><tspan dy="17.2" dx="5.2">)</tspan></text>
<text transform="translate(31.5,807.5) rotate(-90)" font-family="'Liberation Sans', Arial, sans-serif" font-size="34.5" fill="#111" stroke="#111" stroke-width="0.6" textLength="155" lengthAdjust="spacingAndGlyphs">E - E<tspan font-size="23" dy="7">F</tspan><tspan dy="-7"> (eV)</tspan></text>
<g font-family="'Liberation Serif', 'Times New Roman', serif" font-size="30" fill="#fff">
<text x="130.5" y="561.0">M</text><text x="251.5" y="561.0">Γ</text><text x="369.7" y="561.0">K</text>
</g>
<g stroke="#fff" stroke-width="1.8">
<line x1="132.5" y1="535.0" x2="152.5" y2="535.0"/><line x1="252.5" y1="535.0" x2="268.5" y2="535.0"/><line x1="371.7" y1="535.0" x2="387.7" y2="535.0"/>
<line x1="166.8" y1="550.0" x2="236.8" y2="550.0"/><line x1="283.3" y1="550.0" x2="353.4" y2="550.0"/>
</g>
<path d="M163.8,550.0 l6,-2.6 v5.2 z M356.4,550.0 l-6,-2.6 v5.2 z" fill="#fff"/>
<clipPath id="clipd1"><rect x="518.7" y="522.0" width="310.9" height="408.0"/></clipPath>
<g clip-path="url(#clipd1)"><g filter="url(#cmapD)"><rect x="498.70000000000005" y="502.0" width="350.9" height="448.0" fill="#000"/>
<path d="M505.7,983.2 L505.7,697.7 L572.3,692.4 L612.2,687.1 L638.8,669.8 L660.1,661.8 L678.8,672.4 L692.1,673.8 L718.7,681.8 L745.3,676.4 L772.0,667.1 L798.6,664.5 L843.8,676.4 L883.3,983.2 Z" fill="rgb(18,18,18)" filter="url(#b10_5)"/>
<path d="M505.7,983.2 L505.7,705.7 L572.3,700.4 L612.2,695.1 L638.8,677.8 L660.1,669.8 L678.8,680.4 L692.1,681.8 L718.7,689.7 L745.3,684.4 L772.0,675.1 L798.6,672.4 L843.8,684.4 L883.3,983.2 Z" fill="rgb(38,38,38)" filter="url(#b8_0)"/>
<path d="M505.7,983.2 L505.7,725.7 L572.3,720.4 L612.2,715.0 L641.5,701.7 L660.1,699.1 L678.8,699.1 L692.1,699.1 L718.7,709.7 L745.3,704.4 L772.0,693.7 L798.6,691.1 L843.8,701.7 L883.3,983.2 Z" fill="rgb(76,76,76)" filter="url(#b7_0)"/>
<path d="M633.5,687.1 C641.5,680.0 658.8,680.9 668.1,681.8 C677.4,682.6 685.9,679.1 689.4,692.4 C693.0,705.7 703.2,750.1 689.4,761.6 C675.7,773.2 618.4,767.9 606.9,761.6 C595.3,755.4 615.7,736.8 620.2,724.4 C624.6,711.9 625.5,694.2 633.5,687.1 Z" fill="rgb(38,38,38)" filter="url(#b5_5)"/>
<ellipse cx="572.3" cy="745.7" rx="42.6" ry="21.3" fill="rgb(102,102,102)" filter="url(#b5_5)"/>
<path d="M606.9,735.0 C618.9,727.5 653.5,729.2 678.8,729.7 C704.1,730.1 732.0,736.8 758.6,737.7 C785.3,738.6 825.2,725.7 838.5,735.0 C851.8,744.3 851.8,784.3 838.5,793.6 C825.2,802.9 785.3,793.6 758.6,790.9 C732.0,788.3 704.1,780.3 678.8,777.6 C653.5,775.0 618.9,782.1 606.9,775.0 C594.9,767.9 594.9,742.6 606.9,735.0 Z" fill="rgb(36,36,36)" filter="url(#b6_0)"/>
<ellipse cx="801.2" cy="760.3" rx="47.9" ry="16.0" fill="rgb(20,20,20)" filter="url(#b6_5)"/>
<ellipse cx="668.1" cy="788.3" rx="42.6" ry="26.6" fill="rgb(82,82,82)" filter="url(#b5_5)"/>
<ellipse cx="558.9" cy="814.9" rx="42.6" ry="39.9" fill="rgb(33,33,33)" filter="url(#b5_5)"/>
<ellipse cx="558.9" cy="820.2" rx="26.6" ry="21.3" fill="rgb(18,18,18)" filter="url(#b5_0)"/>
<path d="M718.7,801.6 C738.7,793.6 818.6,792.7 838.5,801.6 C858.5,810.5 858.5,846.8 838.5,854.8 C818.6,862.8 738.7,858.4 718.7,849.5 C698.7,840.6 698.7,809.6 718.7,801.6 Z" fill="rgb(41,41,41)" filter="url(#b6_5)"/>
<ellipse cx="790.6" cy="812.2" rx="21.3" ry="10.7" fill="rgb(76,76,76)" filter="url(#b4_0)"/>
<ellipse cx="678.8" cy="900.1" rx="66.6" ry="32.0" fill="rgb(97,97,97)" filter="url(#b6_5)"/>
<path d="M684.1,687.1 C683.2,680.9 696.1,703.9 705.4,708.4 C714.7,712.8 728.5,714.2 740.0,713.7 C751.5,713.3 764.9,710.2 774.6,705.7 C784.4,701.3 792.4,689.3 798.6,687.1 C804.8,684.9 815.9,683.5 811.9,692.4 C807.9,701.3 786.6,730.1 774.6,740.3 C762.6,750.5 750.7,752.8 740.0,753.7 C729.4,754.5 720.0,756.8 710.7,745.7 C701.4,734.6 685.0,693.3 684.1,687.1 Z" fill="rgb(84,84,84)" filter="url(#b4_0)"/>
<ellipse cx="785.3" cy="703.1" rx="18.6" ry="13.3" fill="rgb(107,107,107)" filter="url(#b5_0)"/>
<path d="M598.9,753.7 C603.3,747.0 618.0,724.8 625.5,713.7 C633.1,702.6 641.0,691.5 644.1,687.1" fill="none" stroke="rgb(102,102,102)" stroke-width="16.0" stroke-linecap="round" stroke-linejoin="round" filter="url(#b4_0)"/>
<ellipse cx="740.0" cy="727.0" rx="29.3" ry="17.3" fill="rgb(138,138,138)" filter="url(#b3_0)"/>
<path d="M717.4,717.7 C723.4,715.3 754.0,715.3 760.0,717.7 C766.0,720.1 756.6,729.0 753.3,732.4 C750.0,735.7 744.9,737.7 740.0,737.7 C735.1,737.7 727.8,735.7 724.0,732.4 C720.3,729.0 711.4,720.1 717.4,717.7 Z" fill="rgb(191,191,191)" filter="url(#b1_5)"/>
<ellipse cx="738.7" cy="726.5" rx="8.0" ry="4.0" fill="rgb(214,214,214)" filter="url(#b1_5)"/>
<path d="M513.7,862.8 C521.2,864.6 544.7,872.6 558.9,873.5 C573.1,874.4 586.9,871.7 598.9,868.1 C610.9,864.6 625.5,854.8 630.8,852.2" fill="none" stroke="rgb(122,122,122)" stroke-width="18.6" stroke-linecap="round" stroke-linejoin="round" filter="url(#b4_0)"/>
<ellipse cx="524.3" cy="862.8" rx="10.7" ry="13.3" fill="rgb(133,133,133)" filter="url(#b3_0)"/>
<path d="M598.9,929.9 C602.4,923.2 613.5,902.0 620.2,889.4 C626.8,876.9 635.7,860.6 638.8,854.8" fill="none" stroke="rgb(107,107,107)" stroke-width="16.0" stroke-linecap="round" stroke-linejoin="round" filter="url(#b4_0)"/>
<path d="M585.6,756.3 C589.1,759.9 600.2,770.1 606.9,777.6 C613.5,785.2 618.9,794.0 625.5,801.6 C632.2,809.1 639.7,817.6 646.8,822.9 C653.9,828.2 661.0,829.1 668.1,833.5 C675.2,838.0 682.3,841.1 689.4,849.5 C696.5,857.9 703.6,872.6 710.7,884.1 C717.8,895.7 727.6,910.8 732.0,918.7 C736.5,926.7 736.5,929.8 737.3,932.1" fill="none" stroke="rgb(128,128,128)" stroke-width="26.6" stroke-linecap="round" stroke-linejoin="round" filter="url(#b5_5)"/>
<path d="M625.5,804.2 C627.7,806.5 633.5,813.6 638.8,817.6 C644.1,821.6 654.4,826.4 657.5,828.2" fill="none" stroke="rgb(184,184,184)" stroke-width="10.7" stroke-linecap="round" stroke-linejoin="round" filter="url(#b2_0)"/>
<path d="M684.1,849.5 C686.3,852.6 692.5,860.6 697.4,868.1 C702.3,875.7 708.0,886.8 713.4,894.8 C718.7,902.8 726.0,910.8 729.4,916.1 C732.7,921.4 732.7,925.0 733.3,926.7" fill="none" stroke="rgb(168,168,168)" stroke-width="10.1" stroke-linecap="round" stroke-linejoin="round" filter="url(#b2_0)"/>
<path d="M641.5,818.9 C644.6,813.3 662.3,813.8 670.8,814.9 C679.2,816.0 688.5,819.3 692.1,825.5 C695.6,831.8 694.3,846.6 692.1,852.2 C689.9,857.7 685.4,859.5 678.8,858.8 C672.1,858.2 658.3,854.8 652.1,848.2 C645.9,841.5 638.4,824.4 641.5,818.9 Z" fill="rgb(191,191,191)" filter="url(#b2_5)"/>
<ellipse cx="668.6" cy="833.0" rx="10.7" ry="9.1" fill="rgb(255,255,255)" filter="url(#b3_0)"/>
</g></g>
<rect x="521.3000000000001" y="524.6" width="305.7" height="402.8" fill="none" stroke="#b8b8e0" stroke-width="1.1"/>
<rect x="518.7" y="522.0" width="310.9" height="408.0" fill="none" stroke="#111" stroke-width="2.3"/>
<line x1="520.7" y1="580.4" x2="827.6" y2="580.4" stroke="#000" stroke-width="4" stroke-dasharray="10 7"/>
<line x1="508.7" y1="523.6" x2="518.7" y2="523.6" stroke="#111" stroke-width="2.2" />
<text x="502.2" y="532.9" font-family="'Liberation Sans', Arial, sans-serif" font-size="26" text-anchor="end" fill="#111" font-weight="normal" font-style="normal" stroke="#111" stroke-width="0.5">1</text>
<line x1="508.7" y1="580.4" x2="518.7" y2="580.4" stroke="#111" stroke-width="2.2" />
<text x="502.2" y="589.7" font-family="'Liberation Sans', Arial, sans-serif" font-size="26" text-anchor="end" fill="#111" font-weight="normal" font-style="normal" stroke="#111" stroke-width="0.5">0</text>
<line x1="508.7" y1="637.2" x2="518.7" y2="637.2" stroke="#111" stroke-width="2.2" />
<text x="502.2" y="646.5" font-family="'Liberation Sans', Arial, sans-serif" font-size="26" text-anchor="end" fill="#111" font-weight="normal" font-style="normal" stroke="#111" stroke-width="0.5">-1</text>
<line x1="508.7" y1="694.0" x2="518.7" y2="694.0" stroke="#111" stroke-width="2.2" />
<text x="502.2" y="703.3" font-family="'Liberation Sans', Arial, sans-serif" font-size="26" text-anchor="end" fill="#111" font-weight="normal" font-style="normal" stroke="#111" stroke-width="0.5">-2</text>
<line x1="508.7" y1="750.8" x2="518.7" y2="750.8" stroke="#111" stroke-width="2.2" />
<text x="502.2" y="760.1" font-family="'Liberation Sans', Arial, sans-serif" font-size="26" text-anchor="end" fill="#111" font-weight="normal" font-style="normal" stroke="#111" stroke-width="0.5">-3</text>
<line x1="508.7" y1="807.6" x2="518.7" y2="807.6" stroke="#111" stroke-width="2.2" />
<text x="502.2" y="816.9" font-family="'Liberation Sans', Arial, sans-serif" font-size="26" text-anchor="end" fill="#111" font-weight="normal" font-style="normal" stroke="#111" stroke-width="0.5">-4</text>
<line x1="508.7" y1="864.4" x2="518.7" y2="864.4" stroke="#111" stroke-width="2.2" />
<text x="502.2" y="873.7" font-family="'Liberation Sans', Arial, sans-serif" font-size="26" text-anchor="end" fill="#111" font-weight="normal" font-style="normal" stroke="#111" stroke-width="0.5">-5</text>
<line x1="508.7" y1="921.2" x2="518.7" y2="921.2" stroke="#111" stroke-width="2.2" />
<text x="502.2" y="930.5" font-family="'Liberation Sans', Arial, sans-serif" font-size="26" text-anchor="end" fill="#111" font-weight="normal" font-style="normal" stroke="#111" stroke-width="0.5">-6</text>
<line x1="527.9" y1="930.0" x2="527.9" y2="936.0" stroke="#111" stroke-width="2.2" />
<line x1="575.1" y1="930.0" x2="575.1" y2="940.0" stroke="#111" stroke-width="2.2" />
<line x1="622.4" y1="930.0" x2="622.4" y2="936.0" stroke="#111" stroke-width="2.2" />
<line x1="669.6" y1="930.0" x2="669.6" y2="940.0" stroke="#111" stroke-width="2.2" />
<line x1="716.9" y1="930.0" x2="716.9" y2="936.0" stroke="#111" stroke-width="2.2" />
<line x1="764.1" y1="930.0" x2="764.1" y2="940.0" stroke="#111" stroke-width="2.2" />
<line x1="811.4" y1="930.0" x2="811.4" y2="936.0" stroke="#111" stroke-width="2.2" />
<text x="574.6" y="972.5" font-family="'Liberation Sans', Arial, sans-serif" font-size="28.5" text-anchor="middle" fill="#111" font-weight="normal" font-style="normal" stroke="#111" stroke-width="0.5">-1.0</text>
<text x="669.1" y="972.5" font-family="'Liberation Sans', Arial, sans-serif" font-size="28.5" text-anchor="middle" fill="#111" font-weight="normal" font-style="normal" stroke="#111" stroke-width="0.5">0.0</text>
<text x="763.6" y="972.5" font-family="'Liberation Sans', Arial, sans-serif" font-size="28.5" text-anchor="middle" fill="#111" font-weight="normal" font-style="normal" stroke="#111" stroke-width="0.5">1.0</text>
<text x="623.1" y="1023.0" font-family="'Liberation Sans', Arial, sans-serif" font-size="31.5" fill="#111" stroke="#111" stroke-width="0.6" textLength="99" lengthAdjust="spacingAndGlyphs">k<tspan font-size="20.2" dy="6.3">||</tspan><tspan dy="-6.3"> (Å</tspan><tspan font-size="20.2" dy="-15.8">-1</tspan><tspan dy="15.8" dx="4.7">)</tspan></text>
<text transform="translate(454.2,804.4) rotate(-90)" font-family="'Liberation Sans', Arial, sans-serif" font-size="34.5" fill="#111" stroke="#111" stroke-width="0.6" textLength="155" lengthAdjust="spacingAndGlyphs">E - E<tspan font-size="23" dy="7">F</tspan><tspan dy="-7"> (eV)</tspan></text>
<g font-family="'Liberation Serif', 'Times New Roman', serif" font-size="30" fill="#fff">
<text x="553.3" y="559.0">M</text><text x="659.7" y="559.0">Γ</text><text x="787.7" y="559.0">K</text>
</g>
<g stroke="#fff" stroke-width="1.8">
<line x1="555.3" y1="533.0" x2="575.3" y2="533.0"/><line x1="660.7" y1="533.0" x2="676.7" y2="533.0"/><line x1="789.7" y1="533.0" x2="805.7" y2="533.0"/>
<line x1="586.7" y1="548.0" x2="646.7" y2="548.0"/><line x1="686.7" y1="548.0" x2="776.7" y2="548.0"/>
</g>
<path d="M583.7,548.0 l6,-2.6 v5.2 z M779.7,548.0 l-6,-2.6 v5.2 z" fill="#fff"/>
<clipPath id="clipd2"><rect x="962.2" y="524.0" width="312.0" height="406.70000000000005"/></clipPath>
<g clip-path="url(#clipd2)"><g filter="url(#cmapD)"><rect x="942.2" y="504.0" width="352.0" height="446.70000000000005" fill="#000"/>
<path d="M948.7,984.2 L948.7,675.5 L1015.1,668.8 L1055.0,667.5 L1073.6,648.9 L1086.9,643.6 L1100.2,651.5 L1121.4,651.5 L1137.4,656.9 L1161.3,667.5 L1201.1,672.8 L1227.7,667.5 L1288.8,668.8 L1328.1,984.2 Z" fill="rgb(18,18,18)" filter="url(#b10_5)"/>
<path d="M948.7,984.2 L948.7,683.4 L1015.1,676.8 L1055.0,675.5 L1073.6,656.9 L1086.9,651.5 L1100.2,659.5 L1121.4,659.5 L1137.4,664.8 L1161.3,675.5 L1201.1,680.8 L1227.7,675.5 L1288.8,676.8 L1328.1,984.2 Z" fill="rgb(38,38,38)" filter="url(#b8_0)"/>
<path d="M948.7,984.2 L948.7,700.7 L1015.1,695.4 L1055.0,692.7 L1073.6,674.1 L1086.9,668.8 L1100.2,679.4 L1121.4,679.4 L1137.4,682.1 L1161.3,692.7 L1201.1,698.0 L1227.7,692.7 L1288.8,694.1 L1328.1,984.2 Z" fill="rgb(76,76,76)" filter="url(#b7_0)"/>
<path d="M1086.9,672.8 C1095.7,665.7 1112.1,665.7 1121.4,667.5 C1130.7,669.3 1138.3,671.9 1142.7,683.4 C1147.1,694.9 1163.5,726.8 1148.0,736.6 C1132.5,746.3 1063.0,746.3 1049.7,741.9 C1036.4,737.4 1062.1,721.5 1068.3,710.0 C1074.5,698.5 1078.0,679.9 1086.9,672.8 Z" fill="rgb(38,38,38)" filter="url(#b5_5)"/>
<ellipse cx="1004.5" cy="715.3" rx="42.5" ry="21.3" fill="rgb(97,97,97)" filter="url(#b5_5)"/>
<path d="M1041.7,728.6 C1055.0,724.6 1094.9,727.3 1121.4,728.6 C1148.0,729.9 1174.6,735.2 1201.1,736.6 C1227.7,737.9 1267.6,732.1 1280.8,736.6 C1294.1,741.0 1294.1,759.6 1280.8,763.1 C1267.6,766.7 1227.7,759.6 1201.1,757.8 C1174.6,756.0 1148.0,753.4 1121.4,752.5 C1094.9,751.6 1055.0,756.5 1041.7,752.5 C1028.4,748.5 1028.4,732.6 1041.7,728.6 Z" fill="rgb(38,38,38)" filter="url(#b5_0)"/>
<ellipse cx="1241.0" cy="779.1" rx="42.5" ry="29.2" fill="rgb(18,18,18)" filter="url(#b6_5)"/>
<ellipse cx="1007.2" cy="795.0" rx="39.9" ry="47.8" fill="rgb(36,36,36)" filter="url(#b5_5)"/>
<ellipse cx="1113.5" cy="773.8" rx="47.8" ry="18.6" fill="rgb(84,84,84)" filter="url(#b5_5)"/>
<ellipse cx="1109.5" cy="760.5" rx="10.6" ry="8.0" fill="rgb(102,102,102)" filter="url(#b2_5)"/>
<path d="M1163.9,789.7 C1183.4,777.3 1261.4,777.3 1280.8,789.7 C1300.3,802.1 1300.3,851.7 1280.8,864.1 C1261.4,876.5 1183.4,876.5 1163.9,864.1 C1144.5,851.7 1144.5,802.1 1163.9,789.7 Z" fill="rgb(38,38,38)" filter="url(#b6_5)"/>
<ellipse cx="1267.6" cy="816.3" rx="10.6" ry="15.9" fill="rgb(76,76,76)" filter="url(#b4_0)"/>
<ellipse cx="1116.1" cy="909.3" rx="53.1" ry="31.9" fill="rgb(87,87,87)" filter="url(#b6_5)"/>
<path d="M1036.4,749.8 C1039.9,743.2 1049.7,724.6 1057.7,710.0 C1065.6,695.4 1079.8,670.1 1084.2,662.2" fill="none" stroke="rgb(107,107,107)" stroke-width="15.9" stroke-linecap="round" stroke-linejoin="round" filter="url(#b4_0)"/>
<ellipse cx="1037.7" cy="718.0" rx="12.0" ry="10.6" fill="rgb(140,140,140)" filter="url(#b2_5)"/>
<ellipse cx="1039.1" cy="720.6" rx="4.0" ry="3.2" fill="rgb(178,178,178)" filter="url(#b1_5)"/>
<path d="M1137.4,678.1 C1137.8,673.2 1151.5,691.8 1158.6,696.7 C1165.7,701.6 1171.5,706.9 1179.9,707.3 C1188.3,707.8 1201.1,703.4 1209.1,699.4 C1217.1,695.4 1222.4,685.2 1227.7,683.4 C1233.0,681.7 1244.1,680.3 1241.0,688.7 C1237.9,697.2 1219.3,725.5 1209.1,733.9 C1198.9,742.3 1188.7,740.5 1179.9,739.2 C1171.0,737.9 1163.0,736.1 1156.0,725.9 C1148.9,715.8 1136.9,683.0 1137.4,678.1 Z" fill="rgb(84,84,84)" filter="url(#b4_0)"/>
<path d="M1201.1,715.3 C1205.6,709.8 1214.4,712.2 1227.7,711.3 C1241.0,710.4 1272.0,704.5 1280.8,710.0 C1289.7,715.5 1294.1,738.8 1280.8,744.5 C1267.6,750.3 1214.4,749.4 1201.1,744.5 C1187.8,739.7 1196.7,720.8 1201.1,715.3 Z" fill="rgb(36,36,36)" filter="url(#b5_0)"/>
<ellipse cx="1251.6" cy="691.4" rx="31.9" ry="14.6" fill="rgb(87,87,87)" filter="url(#b4_0)"/>
<ellipse cx="1175.9" cy="714.0" rx="26.6" ry="17.3" fill="rgb(138,138,138)" filter="url(#b3_0)"/>
<path d="M1156.0,704.7 C1158.4,703.4 1167.9,706.0 1174.6,707.3 C1181.2,708.7 1193.2,709.8 1195.8,712.7 C1198.5,715.5 1194.5,722.4 1190.5,724.6 C1186.5,726.8 1177.0,727.5 1171.9,725.9 C1166.8,724.4 1162.6,718.9 1159.9,715.3 C1157.3,711.8 1153.5,706.0 1156.0,704.7 Z" fill="rgb(191,191,191)" filter="url(#b1_5)"/>
<path d="M956.7,845.5 C962.9,847.7 981.9,856.1 993.9,858.8 C1005.8,861.4 1019.1,862.8 1028.4,861.4 C1037.7,860.1 1046.1,852.6 1049.7,850.8" fill="none" stroke="rgb(122,122,122)" stroke-width="18.6" stroke-linecap="round" stroke-linejoin="round" filter="url(#b4_0)"/>
<path d="M1020.5,736.6 C1024.0,741.0 1034.6,754.3 1041.7,763.1 C1048.8,772.0 1056.8,781.7 1063.0,789.7 C1069.2,797.7 1076.3,807.4 1078.9,811.0" fill="none" stroke="rgb(128,128,128)" stroke-width="15.9" stroke-linecap="round" stroke-linejoin="round" filter="url(#b3_0)"/>
<path d="M1068.3,800.3 C1075.4,799.9 1096.6,797.7 1110.8,797.7 C1125.0,797.7 1146.2,799.9 1153.3,800.3" fill="none" stroke="rgb(128,128,128)" stroke-width="13.3" stroke-linecap="round" stroke-linejoin="round" filter="url(#b3_0)"/>
<path d="M1086.9,848.2 C1083.8,853.9 1074.5,870.3 1068.3,882.7 C1062.1,895.1 1053.7,913.7 1049.7,922.6 C1045.7,931.4 1045.3,933.6 1044.4,935.8" fill="none" stroke="rgb(140,140,140)" stroke-width="15.9" stroke-linecap="round" stroke-linejoin="round" filter="url(#b3_0)"/>
<path d="M1081.6,853.5 C1078.9,859.2 1070.5,876.9 1065.6,888.0 C1060.8,899.1 1055.4,911.9 1052.3,919.9 C1049.2,927.9 1047.9,933.2 1047.0,935.8" fill="none" stroke="rgb(178,178,178)" stroke-width="6.6" stroke-linecap="round" stroke-linejoin="round" filter="url(#b1_5)"/>
<path d="M1134.7,848.2 C1137.8,854.4 1147.1,872.1 1153.3,885.4 C1159.5,898.6 1168.4,919.5 1171.9,927.9 C1175.4,936.3 1174.1,934.5 1174.6,935.8" fill="none" stroke="rgb(128,128,128)" stroke-width="15.9" stroke-linecap="round" stroke-linejoin="round" filter="url(#b3_5)"/>
<path d="M1085.6,812.3 C1095.3,805.9 1139.6,802.5 1149.3,808.3 C1159.1,814.1 1153.8,840.4 1144.0,846.8 C1134.3,853.3 1100.6,852.6 1090.9,846.8 C1081.1,841.1 1075.8,818.7 1085.6,812.3 Z" fill="rgb(191,191,191)" filter="url(#b2_0)"/>
<path d="M1098.8,820.3 C1104.4,817.3 1127.8,816.0 1133.4,818.4 C1138.9,820.8 1137.6,831.9 1132.1,834.9 C1126.5,837.8 1105.7,838.6 1100.2,836.2 C1094.6,833.8 1093.3,823.2 1098.8,820.3 Z" fill="rgb(237,237,237)" filter="url(#b3_5)"/>
</g></g>
<rect x="964.8000000000001" y="526.6" width="306.8" height="401.50000000000006" fill="none" stroke="#b8b8e0" stroke-width="1.1"/>
<rect x="962.2" y="524.0" width="312.0" height="406.70000000000005" fill="none" stroke="#111" stroke-width="2.3"/>
<line x1="964.2" y1="582.8" x2="1272.2" y2="582.8" stroke="#000" stroke-width="4" stroke-dasharray="10 7"/>
<line x1="952.2" y1="525.3" x2="962.2" y2="525.3" stroke="#111" stroke-width="2.2" />
<text x="945.7" y="534.6" font-family="'Liberation Sans', Arial, sans-serif" font-size="26" text-anchor="end" fill="#111" font-weight="normal" font-style="normal" stroke="#111" stroke-width="0.5">1</text>
<line x1="952.2" y1="582.8" x2="962.2" y2="582.8" stroke="#111" stroke-width="2.2" />
<text x="945.7" y="592.1" font-family="'Liberation Sans', Arial, sans-serif" font-size="26" text-anchor="end" fill="#111" font-weight="normal" font-style="normal" stroke="#111" stroke-width="0.5">0</text>
<line x1="952.2" y1="640.3" x2="962.2" y2="640.3" stroke="#111" stroke-width="2.2" />
<text x="945.7" y="649.6" font-family="'Liberation Sans', Arial, sans-serif" font-size="26" text-anchor="end" fill="#111" font-weight="normal" font-style="normal" stroke="#111" stroke-width="0.5">-1</text>
<line x1="952.2" y1="697.8" x2="962.2" y2="697.8" stroke="#111" stroke-width="2.2" />
<text x="945.7" y="707.1" font-family="'Liberation Sans', Arial, sans-serif" font-size="26" text-anchor="end" fill="#111" font-weight="normal" font-style="normal" stroke="#111" stroke-width="0.5">-2</text>
<line x1="952.2" y1="755.3" x2="962.2" y2="755.3" stroke="#111" stroke-width="2.2" />
<text x="945.7" y="764.6" font-family="'Liberation Sans', Arial, sans-serif" font-size="26" text-anchor="end" fill="#111" font-weight="normal" font-style="normal" stroke="#111" stroke-width="0.5">-3</text>
<line x1="952.2" y1="812.8" x2="962.2" y2="812.8" stroke="#111" stroke-width="2.2" />
<text x="945.7" y="822.1" font-family="'Liberation Sans', Arial, sans-serif" font-size="26" text-anchor="end" fill="#111" font-weight="normal" font-style="normal" stroke="#111" stroke-width="0.5">-4</text>
<line x1="952.2" y1="870.3" x2="962.2" y2="870.3" stroke="#111" stroke-width="2.2" />
<text x="945.7" y="879.6" font-family="'Liberation Sans', Arial, sans-serif" font-size="26" text-anchor="end" fill="#111" font-weight="normal" font-style="normal" stroke="#111" stroke-width="0.5">-5</text>
<line x1="952.2" y1="927.8" x2="962.2" y2="927.8" stroke="#111" stroke-width="2.2" />
<text x="945.7" y="937.1" font-family="'Liberation Sans', Arial, sans-serif" font-size="26" text-anchor="end" fill="#111" font-weight="normal" font-style="normal" stroke="#111" stroke-width="0.5">-6</text>
<line x1="964.0" y1="930.7" x2="964.0" y2="936.7" stroke="#111" stroke-width="2.2" />
<line x1="1012.8" y1="930.7" x2="1012.8" y2="940.7" stroke="#111" stroke-width="2.2" />
<line x1="1061.5" y1="930.7" x2="1061.5" y2="936.7" stroke="#111" stroke-width="2.2" />
<line x1="1110.3" y1="930.7" x2="1110.3" y2="940.7" stroke="#111" stroke-width="2.2" />
<line x1="1159.0" y1="930.7" x2="1159.0" y2="936.7" stroke="#111" stroke-width="2.2" />
<line x1="1207.8" y1="930.7" x2="1207.8" y2="940.7" stroke="#111" stroke-width="2.2" />
<line x1="1256.5" y1="930.7" x2="1256.5" y2="936.7" stroke="#111" stroke-width="2.2" />
<text x="1012.3" y="973.2" font-family="'Liberation Sans', Arial, sans-serif" font-size="28.5" text-anchor="middle" fill="#111" font-weight="normal" font-style="normal" stroke="#111" stroke-width="0.5">-1.0</text>
<text x="1109.8" y="973.2" font-family="'Liberation Sans', Arial, sans-serif" font-size="28.5" text-anchor="middle" fill="#111" font-weight="normal" font-style="normal" stroke="#111" stroke-width="0.5">0.0</text>
<text x="1207.3" y="973.2" font-family="'Liberation Sans', Arial, sans-serif" font-size="28.5" text-anchor="middle" fill="#111" font-weight="normal" font-style="normal" stroke="#111" stroke-width="0.5">1.0</text>
<text x="1061.3" y="1023.7" font-family="'Liberation Sans', Arial, sans-serif" font-size="34.5" fill="#111" stroke="#111" stroke-width="0.6" textLength="110" lengthAdjust="spacingAndGlyphs">k<tspan font-size="22.1" dy="6.9">||</tspan><tspan dy="-6.9"> (Å</tspan><tspan font-size="22.1" dy="-17.2">-1</tspan><tspan dy="17.2" dx="5.2">)</tspan></text>
<text transform="translate(897.7,806.8) rotate(-90)" font-family="'Liberation Sans', Arial, sans-serif" font-size="34.5" fill="#111" stroke="#111" stroke-width="0.6" textLength="155" lengthAdjust="spacingAndGlyphs">E - E<tspan font-size="23" dy="7">F</tspan><tspan dy="-7"> (eV)</tspan></text>
<g font-family="'Liberation Serif', 'Times New Roman', serif" font-size="30" fill="#fff">
<text x="995.4" y="561.0">M</text><text x="1101.7" y="561.0">Γ</text><text x="1233.2" y="561.0">K</text>
</g>
<g stroke="#fff" stroke-width="1.8">
<line x1="997.4" y1="535.0" x2="1017.4" y2="535.0"/><line x1="1102.7" y1="535.0" x2="1118.7" y2="535.0"/><line x1="1235.2" y1="535.0" x2="1251.2" y2="535.0"/>
<line x1="1030.2" y1="550.0" x2="1091.2" y2="550.0"/><line x1="1132.2" y1="550.0" x2="1219.6" y2="550.0"/>
</g>
<path d="M1027.2,550.0 l6,-2.6 v5.2 z M1222.6,550.0 l-6,-2.6 v5.2 z" fill="#fff"/>
<clipPath id="clipd3"><rect x="1411.0" y="524.0" width="312.79999999999995" height="407.0"/></clipPath>
<g clip-path="url(#clipd3)"><g filter="url(#cmapD)"><rect x="1391.0" y="504.0" width="352.79999999999995" height="447.0" fill="#000"/>
<path d="M1397.7,984.2 L1397.7,704.7 L1464.1,708.7 L1517.3,699.4 L1538.5,678.1 L1554.5,667.5 L1570.4,674.1 L1583.7,663.5 L1597.0,683.4 L1623.6,704.7 L1650.1,702.0 L1676.7,683.4 L1703.3,682.1 L1737.8,694.1 L1777.1,984.2 Z" fill="rgb(18,18,18)" filter="url(#b10_5)"/>
<path d="M1397.7,984.2 L1397.7,712.7 L1464.1,716.6 L1517.3,707.3 L1538.5,686.1 L1554.5,675.5 L1570.4,682.1 L1583.7,671.5 L1597.0,691.4 L1623.6,712.7 L1650.1,710.0 L1676.7,691.4 L1703.3,690.1 L1737.8,702.0 L1777.1,984.2 Z" fill="rgb(38,38,38)" filter="url(#b8_0)"/>
<path d="M1397.7,984.2 L1397.7,732.6 L1464.1,736.6 L1517.3,727.3 L1538.5,706.0 L1554.5,695.4 L1570.4,700.7 L1583.7,690.1 L1597.0,711.3 L1623.6,732.6 L1650.1,729.9 L1676.7,711.3 L1703.3,710.0 L1737.8,721.9 L1777.1,984.2 Z" fill="rgb(76,76,76)" filter="url(#b7_0)"/>
<path d="M1533.2,696.7 C1540.3,688.7 1549.2,683.0 1559.8,683.4 C1570.4,683.9 1590.8,686.1 1597.0,699.4 C1603.2,712.7 1613.4,752.5 1597.0,763.1 C1580.6,773.8 1512.0,768.4 1498.7,763.1 C1485.4,757.8 1511.5,742.3 1517.3,731.2 C1523.0,720.2 1526.1,704.7 1533.2,696.7 Z" fill="rgb(38,38,38)" filter="url(#b5_5)"/>
<ellipse cx="1456.2" cy="741.9" rx="45.2" ry="14.6" fill="rgb(97,97,97)" filter="url(#b5_0)"/>
<path d="M1498.7,757.8 C1515.1,752.5 1558.5,755.2 1597.0,755.2 C1635.5,755.2 1707.7,751.6 1729.8,757.8 C1752.0,764.0 1752.0,787.0 1729.8,792.4 C1707.7,797.7 1635.5,790.6 1597.0,789.7 C1558.5,788.8 1515.1,792.4 1498.7,787.0 C1482.3,781.7 1482.3,763.1 1498.7,757.8 Z" fill="rgb(33,33,33)" filter="url(#b5_0)"/>
<ellipse cx="1549.2" cy="768.4" rx="45.2" ry="10.6" fill="rgb(15,15,15)" filter="url(#b4_0)"/>
<ellipse cx="1690.0" cy="776.4" rx="39.9" ry="13.3" fill="rgb(18,18,18)" filter="url(#b4_0)"/>
<ellipse cx="1464.1" cy="826.9" rx="53.1" ry="37.2" fill="rgb(23,23,23)" filter="url(#b6_0)"/>
<ellipse cx="1464.1" cy="826.9" rx="34.5" ry="23.9" fill="rgb(13,13,13)" filter="url(#b4_0)"/>
<path d="M1405.7,893.3 C1430.9,886.2 1531.5,888.5 1557.1,896.0 C1582.8,903.5 1585.0,931.4 1559.8,938.5 C1534.6,945.6 1431.4,946.0 1405.7,938.5 C1380.0,931.0 1380.4,900.4 1405.7,893.3 Z" fill="rgb(38,38,38)" filter="url(#b5_5)"/>
<path d="M1597.0,792.4 C1618.2,779.5 1707.7,779.5 1729.8,792.4 C1752.0,805.2 1751.1,856.6 1729.8,869.4 C1708.6,882.3 1624.4,882.3 1602.3,869.4 C1580.2,856.6 1575.7,805.2 1597.0,792.4 Z" fill="rgb(38,38,38)" filter="url(#b6_5)"/>
<ellipse cx="1698.0" cy="829.6" rx="29.2" ry="13.3" fill="rgb(76,76,76)" filter="url(#b4_0)"/>
<path d="M1559.8,872.1 C1588.1,861.4 1701.5,862.8 1729.8,869.4 C1758.2,876.1 1758.2,901.3 1729.8,911.9 C1701.5,922.6 1588.1,939.8 1559.8,933.2 C1531.5,926.5 1531.5,882.7 1559.8,872.1 Z" fill="rgb(82,82,82)" filter="url(#b5_5)"/>
<ellipse cx="1708.6" cy="922.6" rx="21.3" ry="13.3" fill="rgb(43,43,43)" filter="url(#b4_0)"/>
<path d="M1490.7,749.8 C1495.1,744.5 1509.8,726.8 1517.3,718.0 C1524.8,709.1 1532.8,700.3 1535.9,696.7" fill="none" stroke="rgb(89,89,89)" stroke-width="13.3" stroke-linecap="round" stroke-linejoin="round" filter="url(#b4_0)"/>
<path d="M1597.0,699.4 C1599.7,703.8 1606.7,716.6 1612.9,725.9 C1619.1,735.2 1627.1,753.8 1634.2,755.2 C1641.3,756.5 1648.4,741.9 1655.4,733.9 C1662.5,725.9 1668.7,713.1 1676.7,707.3 C1684.7,701.6 1695.4,698.9 1703.3,699.4 C1711.2,699.8 1720.5,708.2 1724.0,710.0" fill="none" stroke="rgb(87,87,87)" stroke-width="29.2" stroke-linecap="round" stroke-linejoin="round" filter="url(#b4_0)"/>
<path d="M1598.3,702.0 C1601.2,706.5 1609.4,719.7 1615.6,728.6 C1621.8,737.4 1628.9,754.7 1635.5,755.2 C1642.2,755.6 1648.4,739.7 1655.4,731.2 C1662.5,722.8 1674.3,709.1 1678.0,704.7" fill="none" stroke="rgb(133,133,133)" stroke-width="22.6" stroke-linecap="round" stroke-linejoin="round" filter="url(#b2_5)"/>
<path d="M1606.3,714.0 C1608.7,717.7 1616.0,730.4 1620.9,736.6 C1625.8,742.8 1630.6,751.2 1635.5,751.2 C1640.4,751.2 1644.4,742.8 1650.1,736.6 C1655.9,730.4 1666.7,717.7 1670.1,714.0" fill="none" stroke="rgb(189,189,189)" stroke-width="13.8" stroke-linecap="round" stroke-linejoin="round" filter="url(#b1_5)"/>
<ellipse cx="1636.3" cy="745.9" rx="14.6" ry="8.5" fill="rgb(230,230,230)" filter="url(#b2_0)"/>
<path d="M1405.7,779.1 C1411.0,777.5 1425.6,772.0 1437.6,769.8 C1449.5,767.6 1470.8,766.5 1477.4,765.8" fill="none" stroke="rgb(133,133,133)" stroke-width="14.6" stroke-linecap="round" stroke-linejoin="round" filter="url(#b3_0)"/>
<path d="M1405.7,872.1 C1411.0,873.4 1426.9,878.3 1437.6,880.0 C1448.2,881.8 1459.7,883.6 1469.5,882.7 C1479.2,881.8 1488.1,879.2 1496.0,874.7 C1504.0,870.3 1513.7,859.2 1517.3,856.1" fill="none" stroke="rgb(133,133,133)" stroke-width="17.3" stroke-linecap="round" stroke-linejoin="round" filter="url(#b3_0)"/>
<path d="M1472.1,765.8 C1476.5,769.8 1490.3,781.3 1498.7,789.7 C1507.1,798.1 1514.2,807.4 1522.6,816.3 C1531.0,825.1 1538.5,834.9 1549.2,842.8 C1559.8,850.8 1578.4,859.7 1586.4,864.1 C1594.3,868.5 1591.7,863.2 1597.0,869.4 C1602.3,875.6 1611.6,891.0 1618.2,901.3 C1624.9,911.6 1633.3,924.9 1636.8,931.1 C1640.4,937.3 1639.1,937.3 1639.5,938.5" fill="none" stroke="rgb(115,115,115)" stroke-width="26.6" stroke-linecap="round" stroke-linejoin="round" filter="url(#b4_0)"/>
<path d="M1472.1,765.8 C1476.5,769.8 1490.3,781.3 1498.7,789.7 C1507.1,798.1 1514.2,807.4 1522.6,816.3 C1531.0,825.1 1538.5,834.9 1549.2,842.8 C1559.8,850.8 1578.4,859.7 1586.4,864.1 C1594.3,868.5 1591.7,863.2 1597.0,869.4 C1602.3,875.6 1611.6,891.0 1618.2,901.3 C1624.9,911.6 1633.3,924.9 1636.8,931.1 C1640.4,937.3 1639.1,937.3 1639.5,938.5" fill="none" stroke="rgb(189,189,189)" stroke-width="10.6" stroke-linecap="round" stroke-linejoin="round" filter="url(#b1_5)"/>
<path d="M1472.1,765.8 C1476.5,769.8 1490.3,781.3 1498.7,789.7 C1507.1,798.1 1514.2,807.4 1522.6,816.3 C1531.0,825.1 1538.5,834.9 1549.2,842.8 C1559.8,850.8 1578.4,859.7 1586.4,864.1 C1594.3,868.5 1591.7,863.2 1597.0,869.4 C1602.3,875.6 1611.6,891.0 1618.2,901.3 C1624.9,911.6 1633.3,924.9 1636.8,931.1 C1640.4,937.3 1639.1,937.3 1639.5,938.5" fill="none" stroke="rgb(189,189,189)" stroke-width="13.8" stroke-linecap="round" stroke-linejoin="round" filter="url(#b1_5)"/>
<path d="M1522.6,813.6 C1526.1,812.3 1539.0,830.4 1549.2,834.9 C1559.4,839.3 1576.2,836.2 1583.7,840.2 C1591.2,844.2 1593.9,854.1 1594.3,858.8 C1594.8,863.4 1594.3,867.0 1586.4,868.1 C1578.4,869.2 1556.3,869.6 1546.5,865.4 C1536.8,861.2 1531.9,851.5 1527.9,842.8 C1523.9,834.2 1519.1,814.9 1522.6,813.6 Z" fill="rgb(204,204,204)" filter="url(#b2_0)"/>
<path d="M1527.9,818.9 C1531.0,822.5 1539.4,834.7 1546.5,840.2 C1553.6,845.7 1564.2,849.5 1570.4,852.1 C1576.6,854.8 1581.5,855.5 1583.7,856.1" fill="none" stroke="rgb(230,230,230)" stroke-width="14.6" stroke-linecap="round" stroke-linejoin="round" filter="url(#b2_5)"/>
</g></g>
<rect x="1413.6" y="526.6" width="307.59999999999997" height="401.8" fill="none" stroke="#b8b8e0" stroke-width="1.1"/>
<rect x="1411.0" y="524.0" width="312.79999999999995" height="407.0" fill="none" stroke="#111" stroke-width="2.3"/>
<line x1="1413.0" y1="582.9" x2="1721.8" y2="582.9" stroke="#000" stroke-width="4" stroke-dasharray="10 7"/>
<line x1="1401.0" y1="525.4" x2="1411.0" y2="525.4" stroke="#111" stroke-width="2.2" />
<text x="1394.5" y="534.7" font-family="'Liberation Sans', Arial, sans-serif" font-size="26" text-anchor="end" fill="#111" font-weight="normal" font-style="normal" stroke="#111" stroke-width="0.5">1</text>
<line x1="1401.0" y1="582.9" x2="1411.0" y2="582.9" stroke="#111" stroke-width="2.2" />
<text x="1394.5" y="592.2" font-family="'Liberation Sans', Arial, sans-serif" font-size="26" text-anchor="end" fill="#111" font-weight="normal" font-style="normal" stroke="#111" stroke-width="0.5">0</text>
<line x1="1401.0" y1="640.4" x2="1411.0" y2="640.4" stroke="#111" stroke-width="2.2" />
<text x="1394.5" y="649.7" font-family="'Liberation Sans', Arial, sans-serif" font-size="26" text-anchor="end" fill="#111" font-weight="normal" font-style="normal" stroke="#111" stroke-width="0.5">-1</text>
<line x1="1401.0" y1="697.9" x2="1411.0" y2="697.9" stroke="#111" stroke-width="2.2" />
<text x="1394.5" y="707.2" font-family="'Liberation Sans', Arial, sans-serif" font-size="26" text-anchor="end" fill="#111" font-weight="normal" font-style="normal" stroke="#111" stroke-width="0.5">-2</text>
<line x1="1401.0" y1="755.4" x2="1411.0" y2="755.4" stroke="#111" stroke-width="2.2" />
<text x="1394.5" y="764.7" font-family="'Liberation Sans', Arial, sans-serif" font-size="26" text-anchor="end" fill="#111" font-weight="normal" font-style="normal" stroke="#111" stroke-width="0.5">-3</text>
<line x1="1401.0" y1="812.9" x2="1411.0" y2="812.9" stroke="#111" stroke-width="2.2" />
<text x="1394.5" y="822.2" font-family="'Liberation Sans', Arial, sans-serif" font-size="26" text-anchor="end" fill="#111" font-weight="normal" font-style="normal" stroke="#111" stroke-width="0.5">-4</text>
<line x1="1401.0" y1="870.4" x2="1411.0" y2="870.4" stroke="#111" stroke-width="2.2" />
<text x="1394.5" y="879.7" font-family="'Liberation Sans', Arial, sans-serif" font-size="26" text-anchor="end" fill="#111" font-weight="normal" font-style="normal" stroke="#111" stroke-width="0.5">-5</text>
<line x1="1401.0" y1="927.9" x2="1411.0" y2="927.9" stroke="#111" stroke-width="2.2" />
<text x="1394.5" y="937.2" font-family="'Liberation Sans', Arial, sans-serif" font-size="26" text-anchor="end" fill="#111" font-weight="normal" font-style="normal" stroke="#111" stroke-width="0.5">-6</text>
<line x1="1418.6" y1="931.0" x2="1418.6" y2="937.0" stroke="#111" stroke-width="2.2" />
<line x1="1466.6" y1="931.0" x2="1466.6" y2="941.0" stroke="#111" stroke-width="2.2" />
<line x1="1514.7" y1="931.0" x2="1514.7" y2="937.0" stroke="#111" stroke-width="2.2" />
<line x1="1562.7" y1="931.0" x2="1562.7" y2="941.0" stroke="#111" stroke-width="2.2" />
<line x1="1610.8" y1="931.0" x2="1610.8" y2="937.0" stroke="#111" stroke-width="2.2" />
<line x1="1658.8" y1="931.0" x2="1658.8" y2="941.0" stroke="#111" stroke-width="2.2" />
<line x1="1706.8" y1="931.0" x2="1706.8" y2="937.0" stroke="#111" stroke-width="2.2" />
<text x="1466.1" y="973.5" font-family="'Liberation Sans', Arial, sans-serif" font-size="28.5" text-anchor="middle" fill="#111" font-weight="normal" font-style="normal" stroke="#111" stroke-width="0.5">-1.0</text>
<text x="1562.2" y="973.5" font-family="'Liberation Sans', Arial, sans-serif" font-size="28.5" text-anchor="middle" fill="#111" font-weight="normal" font-style="normal" stroke="#111" stroke-width="0.5">0.0</text>
<text x="1658.3" y="973.5" font-family="'Liberation Sans', Arial, sans-serif" font-size="28.5" text-anchor="middle" fill="#111" font-weight="normal" font-style="normal" stroke="#111" stroke-width="0.5">1.0</text>
<text x="1510.2" y="1024.0" font-family="'Liberation Sans', Arial, sans-serif" font-size="34.5" fill="#111" stroke="#111" stroke-width="0.6" textLength="111" lengthAdjust="spacingAndGlyphs">k<tspan font-size="22.1" dy="6.9">||</tspan><tspan dy="-6.9"> (Å</tspan><tspan font-size="22.1" dy="-17.2">-1</tspan><tspan dy="17.2" dx="5.2">)</tspan></text>
<text transform="translate(1346.5,806.9) rotate(-90)" font-family="'Liberation Sans', Arial, sans-serif" font-size="34.5" fill="#111" stroke="#111" stroke-width="0.6" textLength="155" lengthAdjust="spacingAndGlyphs">E - E<tspan font-size="23" dy="7">F</tspan><tspan dy="-7"> (eV)</tspan></text>
<g font-family="'Liberation Serif', 'Times New Roman', serif" font-size="30" fill="#fff">
<text x="1444.2" y="561.0">M</text><text x="1559.8" y="561.0">Γ</text><text x="1682.0" y="561.0">K</text>
</g>
<g stroke="#fff" stroke-width="1.8">
<line x1="1446.2" y1="535.0" x2="1466.2" y2="535.0"/><line x1="1560.8" y1="535.0" x2="1576.8" y2="535.0"/><line x1="1684.0" y1="535.0" x2="1700.0" y2="535.0"/>
<line x1="1480.4" y1="550.0" x2="1549.0" y2="550.0"/><line x1="1583.7" y1="550.0" x2="1671.0" y2="550.0"/>
</g>
<path d="M1477.4,550.0 l6,-2.6 v5.2 z M1674.0,550.0 l-6,-2.6 v5.2 z" fill="#fff"/>
<defs><linearGradient id="cbar" x1="0" y1="1" x2="0" y2="0"><stop offset="0" stop-color="#202090"/><stop offset="0.1" stop-color="#1080f0"/><stop offset="0.13" stop-color="#10a890"/><stop offset="0.2" stop-color="#18d050"/><stop offset="0.3" stop-color="#90f080"/><stop offset="0.4" stop-color="#f8f870"/><stop offset="0.5" stop-color="#b89850"/><stop offset="0.6" stop-color="#7a4a3a"/><stop offset="0.85" stop-color="#d0b8b0"/><stop offset="1" stop-color="#f8f6f6"/></linearGradient></defs>
<rect x="1754.5" y="632.5" width="12.5" height="198" fill="url(#cbar)" stroke="#777" stroke-width="1.6"/>
<text x="1762.5" y="616.0" font-family="'Liberation Sans', Arial, sans-serif" font-size="28.5" text-anchor="middle" fill="#111" font-weight="normal" font-style="normal" stroke="#111" stroke-width="0.6">high</text>
<text x="1762.5" y="865.0" font-family="'Liberation Sans', Arial, sans-serif" font-size="28.5" text-anchor="middle" fill="#111" font-weight="normal" font-style="normal" stroke="#111" stroke-width="0.6">low</text>
<text x="13.0" y="1077.0" font-family="'Liberation Serif', 'Times New Roman', serif" font-size="38" text-anchor="start" fill="#000" font-weight="bold" font-style="normal" >(e)</text>
<clipPath id="clipe0"><rect x="96.4" y="1100.4" width="338.9" height="337.29999999999995"/></clipPath>
<g clip-path="url(#clipe0)"><g filter="url(#cmapE)"><rect x="76.4" y="1080.4" width="378.9" height="377.29999999999995" fill="#000"/>
<path d="M91.6,1317.5 C101.5,1296.8 132.2,1317.5 151.5,1321.9 C170.7,1326.4 190.3,1333.0 207.0,1344.1 C223.6,1355.2 240.3,1371.5 251.4,1388.5 C262.4,1405.5 300.2,1436.6 273.5,1446.2 C246.9,1455.8 121.9,1467.7 91.6,1446.2 C61.2,1424.8 81.6,1338.2 91.6,1317.5 Z" fill="rgb(18,18,18)" filter="url(#b13_5)"/>
<path d="M91.6,1242.0 C107.1,1239.4 168.5,1250.5 184.8,1255.4 C201.0,1260.2 204.7,1268.3 189.2,1270.9 C173.7,1273.5 107.8,1275.7 91.6,1270.9 C75.3,1266.1 76.0,1244.6 91.6,1242.0 Z" fill="rgb(41,41,41)" filter="url(#b6_5)"/>
<path d="M155.9,1284.2 C162.6,1286.1 181.8,1292.7 195.9,1295.3 C209.9,1297.9 225.5,1298.6 240.3,1299.7 C255.1,1300.8 277.2,1301.6 284.6,1302.0" fill="none" stroke="rgb(76,76,76)" stroke-width="17.8" stroke-linecap="round" stroke-linejoin="round" filter="url(#b5_5)"/>
<path d="M213.6,1333.0 C219.9,1331.9 237.7,1328.2 251.4,1326.4 C265.0,1324.5 280.9,1322.3 295.7,1321.9 C310.5,1321.6 332.7,1323.8 340.1,1324.2" fill="none" stroke="rgb(51,51,51)" stroke-width="15.5" stroke-linecap="round" stroke-linejoin="round" filter="url(#b5_5)"/>
<path d="M435.6,1273.1 C433.3,1281.2 426.3,1306.4 422.2,1321.9 C418.2,1337.5 415.6,1351.5 411.1,1366.3 C406.7,1381.1 398.2,1403.3 395.6,1410.7" fill="none" stroke="rgb(43,43,43)" stroke-width="17.8" stroke-linecap="round" stroke-linejoin="round" filter="url(#b8_0)"/>
<path d="M273.5,1344.1 C280.9,1347.8 305.0,1358.9 317.9,1366.3 C330.9,1373.7 339.0,1381.1 351.2,1388.5 C363.4,1395.9 384.5,1407.0 391.2,1410.7" fill="none" stroke="rgb(43,43,43)" stroke-width="20.0" stroke-linecap="round" stroke-linejoin="round" filter="url(#b8_0)"/>
<ellipse cx="389.0" cy="1410.7" rx="35.5" ry="22.2" fill="rgb(82,82,82)" filter="url(#b10_0)"/>
<path d="M96.0,1355.2 C103.4,1357.1 125.6,1360.8 140.4,1366.3 C155.2,1371.9 171.8,1379.3 184.8,1388.5 C197.7,1397.8 212.5,1416.3 218.1,1421.8" fill="none" stroke="rgb(46,46,46)" stroke-width="15.5" stroke-linecap="round" stroke-linejoin="round" filter="url(#b6_5)"/>
<path d="M89.3,1232.7 C96.0,1233.0 117.1,1233.6 129.3,1234.5 C141.5,1235.4 153.3,1236.3 162.6,1238.0 C171.8,1239.7 177.4,1242.1 184.8,1244.7 C192.2,1247.3 197.7,1250.4 207.0,1253.6 C216.2,1256.8 229.2,1261.3 240.3,1263.8 C251.4,1266.2 262.4,1268.2 273.5,1268.2 C284.6,1268.3 301.3,1264.9 306.8,1264.2" fill="none" stroke="rgb(133,133,133)" stroke-width="15.5" stroke-linecap="round" stroke-linejoin="round" filter="url(#b5_0)"/>
<path d="M306.8,1264.2 C312.4,1262.0 329.0,1256.1 340.1,1250.9 C351.2,1245.7 362.3,1237.8 373.4,1233.2 C384.5,1228.5 395.2,1225.6 406.7,1223.2 C418.2,1220.8 436.3,1219.5 442.2,1218.7" fill="none" stroke="rgb(115,115,115)" stroke-width="14.4" stroke-linecap="round" stroke-linejoin="round" filter="url(#b6_0)"/>
<path d="M89.3,1231.4 C96.0,1231.7 117.1,1232.2 129.3,1233.2 C141.5,1234.1 153.3,1235.5 162.6,1237.2 C171.8,1238.8 181.1,1242.1 184.8,1243.1" fill="none" stroke="rgb(184,184,184)" stroke-width="12.2" stroke-linecap="round" stroke-linejoin="round" filter="url(#b4_0)"/>
<path d="M351.2,1235.4 C356.8,1233.2 373.4,1225.4 384.5,1222.1 C395.6,1218.7 408.2,1217.1 417.8,1215.4 C427.4,1213.7 438.1,1212.6 442.2,1212.1" fill="none" stroke="rgb(102,102,102)" stroke-width="10.0" stroke-linecap="round" stroke-linejoin="round" filter="url(#b6_0)"/>
<path d="M91.6,1268.7 C96.0,1261.5 110.1,1268.7 118.2,1269.8 C126.3,1270.9 134.1,1272.9 140.4,1275.3 C146.7,1277.7 150.7,1280.1 155.9,1284.2 C161.1,1288.3 165.5,1294.6 171.5,1299.7 C177.4,1304.9 185.3,1310.5 191.4,1315.3 C197.5,1320.1 204.2,1324.5 208.1,1328.6 C212.0,1332.7 214.0,1336.5 214.7,1339.7 C215.5,1342.8 214.0,1346.0 212.5,1347.5 C211.0,1348.9 209.4,1349.2 205.9,1348.1 C202.3,1347.0 197.2,1343.7 191.4,1340.8 C185.7,1337.9 178.1,1334.3 171.5,1330.8 C164.8,1327.3 159.3,1322.5 151.5,1319.7 C143.7,1316.9 134.8,1315.3 124.9,1314.2 C114.9,1313.1 97.1,1320.6 91.6,1313.1 C86.0,1305.5 87.1,1275.9 91.6,1268.7 Z" fill="rgb(158,158,158)" filter="url(#b10_0)"/>
<path d="M91.6,1268.7 C96.0,1261.5 110.1,1268.7 118.2,1269.8 C126.3,1270.9 134.1,1272.9 140.4,1275.3 C146.7,1277.7 150.7,1280.1 155.9,1284.2 C161.1,1288.3 165.5,1294.6 171.5,1299.7 C177.4,1304.9 185.3,1310.5 191.4,1315.3 C197.5,1320.1 204.2,1324.5 208.1,1328.6 C212.0,1332.7 214.0,1336.5 214.7,1339.7 C215.5,1342.8 214.0,1346.0 212.5,1347.5 C211.0,1348.9 209.4,1349.2 205.9,1348.1 C202.3,1347.0 197.2,1343.7 191.4,1340.8 C185.7,1337.9 178.1,1334.3 171.5,1330.8 C164.8,1327.3 159.3,1322.5 151.5,1319.7 C143.7,1316.9 134.8,1315.3 124.9,1314.2 C114.9,1313.1 97.1,1320.6 91.6,1313.1 C86.0,1305.5 87.1,1275.9 91.6,1268.7 Z" fill="rgb(255,255,255)" filter="url(#b3_5)"/>
</g></g>
<line x1="109.4" y1="1108.4" x2="422.3" y2="1108.4" stroke="#e0cc10" stroke-width="2.8" stroke-dasharray="10.5 7"/>
<line x1="98.0" y1="1231.0" x2="303.6" y2="1231.0" stroke="#e8e8e8" stroke-width="2.6" stroke-dasharray="3.6 5.4"/>
<line x1="210.4" y1="1208.0" x2="435.3" y2="1208.0" stroke="#4aa83a" stroke-width="2.6" stroke-dasharray="3.6 5.4"/>
<text x="219.2" y="1253.3" font-family="'Liberation Sans', Arial, sans-serif" font-size="25" fill="#fff" textLength="87" lengthAdjust="spacingAndGlyphs">−1.91 eV</text>
<text x="219.6" y="1202.0" font-family="'Liberation Sans', Arial, sans-serif" font-size="25" fill="#4aa83a" textLength="91" lengthAdjust="spacingAndGlyphs">−1.53 eV</text>
<line x1="86.9" y1="1107.5" x2="96.4" y2="1107.5" stroke="#777" stroke-width="1.6" />
<line x1="86.9" y1="1173.4" x2="96.4" y2="1173.4" stroke="#777" stroke-width="1.6" />
<text x="74.9" y="1181.6" font-family="'Liberation Sans', Arial, sans-serif" font-size="22.5" text-anchor="end" fill="#333" font-weight="normal" font-style="normal" >−1</text>
<line x1="86.9" y1="1239.3" x2="96.4" y2="1239.3" stroke="#777" stroke-width="1.6" />
<text x="74.9" y="1247.5" font-family="'Liberation Sans', Arial, sans-serif" font-size="22.5" text-anchor="end" fill="#333" font-weight="normal" font-style="normal" >−2</text>
<line x1="86.9" y1="1305.2" x2="96.4" y2="1305.2" stroke="#777" stroke-width="1.6" />
<text x="74.9" y="1313.4" font-family="'Liberation Sans', Arial, sans-serif" font-size="22.5" text-anchor="end" fill="#333" font-weight="normal" font-style="normal" >−3</text>
<line x1="86.9" y1="1371.1" x2="96.4" y2="1371.1" stroke="#777" stroke-width="1.6" />
<text x="74.9" y="1379.3" font-family="'Liberation Sans', Arial, sans-serif" font-size="22.5" text-anchor="end" fill="#333" font-weight="normal" font-style="normal" >−4</text>
<text x="57.9" y="1115" font-family="'Liberation Sans', Arial, sans-serif" font-size="23.5" font-style="italic" fill="#333">E<tspan font-size="16" font-style="normal" dy="7.5">F</tspan></text>
<line x1="202.6" y1="1437.7" x2="202.6" y2="1447.2" stroke="#777" stroke-width="1.6" />
<line x1="308.8" y1="1437.7" x2="308.8" y2="1447.2" stroke="#777" stroke-width="1.6" />
<line x1="415.2" y1="1437.7" x2="415.2" y2="1447.2" stroke="#777" stroke-width="1.6" />
<text x="192.5" y="1476" text-anchor="middle" font-family="'Liberation Sans', Arial, sans-serif" font-size="21.5" fill="#333" textLength="34" lengthAdjust="spacingAndGlyphs">0.4</text>
<text x="298.0" y="1476" text-anchor="middle" font-family="'Liberation Sans', Arial, sans-serif" font-size="21.5" fill="#333" textLength="34" lengthAdjust="spacingAndGlyphs">0.8</text>
<text x="97.7" y="1476.0" font-family="'Liberation Serif', 'Times New Roman', serif" font-size="22" text-anchor="middle" fill="#333" font-weight="normal" font-style="normal" >Γ</text>
<text x="434.0" y="1476.0" font-family="'Liberation Sans', Arial, sans-serif" font-size="21.5" text-anchor="middle" fill="#333" font-weight="normal" font-style="normal" >K</text>
<text x="264.8" y="1516.5" text-anchor="middle" font-family="'Liberation Sans', Arial, sans-serif" font-size="21.5" fill="#333"><tspan font-style="italic">k</tspan><tspan font-style="italic" font-size="15" dy="5">y</tspan><tspan dy="-5">(1/Å)</tspan></text>
<text x="265.0" y="1083.4" text-anchor="middle" font-family="'Liberation Sans', Arial, sans-serif" font-size="23.5" fill="#333" textLength="112" lengthAdjust="spacingAndGlyphs">Monolayer</text>
<text transform="translate(19.0,1376) rotate(-90)" font-family="'Liberation Sans', Arial, sans-serif" font-size="24" fill="#444" textLength="210" lengthAdjust="spacingAndGlyphs">Binding energy (eV)</text>
<clipPath id="clipe1"><rect x="557.0" y="1100.4" width="339.0" height="337.29999999999995"/></clipPath>
<g clip-path="url(#clipe1)"><g filter="url(#cmapE)"><rect x="537.0" y="1080.4" width="379.0" height="377.29999999999995" fill="#000"/>
<path d="M552.6,1310.8 C564.4,1291.2 600.6,1321.2 623.6,1328.6 C646.5,1336.0 671.7,1343.4 690.2,1355.2 C708.7,1367.1 725.3,1384.4 734.5,1399.6 C743.8,1414.8 776.0,1438.4 745.6,1446.2 C715.3,1454.0 584.7,1468.8 552.6,1446.2 C520.4,1423.7 540.7,1330.4 552.6,1310.8 Z" fill="rgb(13,13,13)" filter="url(#b13_5)"/>
<path d="M552.6,1199.9 C566.2,1197.3 617.3,1201.0 634.7,1204.3 C652.1,1207.6 670.6,1217.3 656.9,1219.8 C643.2,1222.4 569.9,1223.2 552.6,1219.8 C535.2,1216.5 538.9,1202.5 552.6,1199.9 Z" fill="rgb(36,36,36)" filter="url(#b6_5)"/>
<path d="M552.6,1239.8 C575.5,1238.3 663.5,1241.7 690.2,1244.3 C716.8,1246.8 716.1,1251.3 712.4,1255.4 C708.7,1259.4 694.6,1269.0 668.0,1268.7 C641.3,1268.3 571.8,1257.9 552.6,1253.1 C533.3,1248.3 529.6,1241.3 552.6,1239.8 Z" fill="rgb(51,51,51)" filter="url(#b6_5)"/>
<ellipse cx="707.9" cy="1284.2" rx="51.0" ry="28.9" fill="rgb(107,107,107)" filter="url(#b10_0)"/>
<path d="M634.7,1268.7 C642.1,1269.8 664.3,1273.1 679.1,1275.3 C693.9,1277.5 708.7,1278.7 723.4,1282.0 C738.2,1285.3 753.0,1290.1 767.8,1295.3 C782.6,1300.5 797.4,1308.2 812.2,1313.1 C827.0,1317.9 841.4,1321.2 856.6,1324.2 C871.8,1327.1 895.4,1329.7 903.2,1330.8" fill="none" stroke="rgb(97,97,97)" stroke-width="24.4" stroke-linecap="round" stroke-linejoin="round" filter="url(#b7_0)"/>
<path d="M681.3,1339.7 C688.3,1342.3 709.0,1350.4 723.4,1355.2 C737.9,1360.0 753.0,1364.5 767.8,1368.5 C782.6,1372.6 797.4,1377.0 812.2,1379.6 C827.0,1382.2 841.4,1383.7 856.6,1384.1 C871.8,1384.4 895.4,1382.2 903.2,1381.9" fill="none" stroke="rgb(64,64,64)" stroke-width="22.2" stroke-linecap="round" stroke-linejoin="round" filter="url(#b8_0)"/>
<path d="M550.3,1188.8 C558.8,1189.3 587.3,1189.5 601.4,1192.1 C615.4,1194.7 625.4,1200.2 634.7,1204.3 C643.9,1208.4 647.6,1212.3 656.9,1216.5 C666.1,1220.8 684.6,1227.6 690.2,1229.8" fill="none" stroke="rgb(120,120,120)" stroke-width="17.8" stroke-linecap="round" stroke-linejoin="round" filter="url(#b6_0)"/>
<path d="M550.3,1228.7 C558.8,1228.9 585.5,1229.1 601.4,1229.8 C617.3,1230.6 632.8,1231.7 645.8,1233.2 C658.7,1234.6 668.0,1237.2 679.1,1238.7 C690.2,1240.2 701.3,1242.2 712.4,1242.0 C723.4,1241.9 734.5,1239.6 745.6,1237.6 C756.7,1235.6 767.8,1233.2 778.9,1229.8 C790.0,1226.5 801.1,1221.5 812.2,1217.6 C823.3,1213.7 834.4,1209.5 845.5,1206.5 C856.6,1203.6 869.2,1201.3 878.8,1199.9 C888.4,1198.4 899.1,1198.0 903.2,1197.7" fill="none" stroke="rgb(148,148,148)" stroke-width="20.0" stroke-linecap="round" stroke-linejoin="round" filter="url(#b6_0)"/>
<path d="M725.7,1240.9 C729.0,1240.4 736.8,1239.4 745.6,1237.6 C754.5,1235.7 767.8,1233.2 778.9,1229.8 C790.0,1226.5 806.7,1219.7 812.2,1217.6" fill="none" stroke="rgb(163,163,163)" stroke-width="17.8" stroke-linecap="round" stroke-linejoin="round" filter="url(#b6_5)"/>
<path d="M778.9,1229.8 C784.5,1227.8 801.1,1221.5 812.2,1217.6 C823.3,1213.7 834.4,1209.4 845.5,1206.5 C856.6,1203.6 869.2,1201.7 878.8,1200.3 C888.4,1198.9 899.1,1198.5 903.2,1198.1" fill="none" stroke="rgb(184,184,184)" stroke-width="16.0" stroke-linecap="round" stroke-linejoin="round" filter="url(#b6_5)"/>
<path d="M552.6,1249.8 C557.0,1241.6 571.1,1250.0 579.2,1251.4 C587.3,1252.7 594.0,1254.8 601.4,1258.0 C608.8,1261.2 616.2,1266.2 623.6,1270.4 C631.0,1274.7 639.1,1279.7 645.8,1283.8 C652.4,1287.8 658.2,1291.2 663.5,1294.9 C668.9,1298.6 674.8,1302.9 678.0,1306.0 C681.1,1309.0 681.8,1308.2 682.4,1313.1 C683.0,1317.9 682.5,1330.1 681.7,1335.2 C681.0,1340.4 682.1,1343.7 678.0,1343.7 C673.8,1343.7 664.1,1338.3 656.9,1335.2 C649.7,1332.2 641.0,1328.6 634.7,1325.3 C628.4,1321.9 624.7,1318.4 619.1,1315.3 C613.6,1312.1 608.0,1308.8 601.4,1306.4 C594.7,1304.0 587.3,1301.8 579.2,1300.8 C571.1,1299.9 557.0,1309.4 552.6,1300.8 C548.1,1292.3 548.1,1258.1 552.6,1249.8 Z" fill="rgb(158,158,158)" filter="url(#b11_0)"/>
<path d="M552.6,1249.8 C557.0,1241.6 571.1,1250.0 579.2,1251.4 C587.3,1252.7 594.0,1254.8 601.4,1258.0 C608.8,1261.2 616.2,1266.2 623.6,1270.4 C631.0,1274.7 639.1,1279.7 645.8,1283.8 C652.4,1287.8 658.2,1291.2 663.5,1294.9 C668.9,1298.6 674.8,1302.9 678.0,1306.0 C681.1,1309.0 681.8,1308.2 682.4,1313.1 C683.0,1317.9 682.5,1330.1 681.7,1335.2 C681.0,1340.4 682.1,1343.7 678.0,1343.7 C673.8,1343.7 664.1,1338.3 656.9,1335.2 C649.7,1332.2 641.0,1328.6 634.7,1325.3 C628.4,1321.9 624.7,1318.4 619.1,1315.3 C613.6,1312.1 608.0,1308.8 601.4,1306.4 C594.7,1304.0 587.3,1301.8 579.2,1300.8 C571.1,1299.9 557.0,1309.4 552.6,1300.8 C548.1,1292.3 548.1,1258.1 552.6,1249.8 Z" fill="rgb(255,255,255)" filter="url(#b3_5)"/>
</g></g>
<line x1="570.0" y1="1108.4" x2="883.0" y2="1108.4" stroke="#e0cc10" stroke-width="2.8" stroke-dasharray="10.5 7"/>
<line x1="559.6" y1="1185.5" x2="765.0" y2="1185.5" stroke="#e8e8e8" stroke-width="2.6" stroke-dasharray="3.6 5.4"/>
<line x1="671.4" y1="1193.0" x2="896.0" y2="1193.0" stroke="#4aa83a" stroke-width="2.6" stroke-dasharray="3.6 5.4"/>
<text x="680.0" y="1178.8" font-family="'Liberation Sans', Arial, sans-serif" font-size="25" fill="#fff" textLength="84" lengthAdjust="spacingAndGlyphs">−1.17 eV</text>
<text x="680.0" y="1215.0" font-family="'Liberation Sans', Arial, sans-serif" font-size="25" fill="#4aa83a" textLength="92" lengthAdjust="spacingAndGlyphs">−1.26 eV</text>
<line x1="547.5" y1="1107.5" x2="557.0" y2="1107.5" stroke="#777" stroke-width="1.6" />
<line x1="547.5" y1="1173.4" x2="557.0" y2="1173.4" stroke="#777" stroke-width="1.6" />
<text x="535.5" y="1181.6" font-family="'Liberation Sans', Arial, sans-serif" font-size="22.5" text-anchor="end" fill="#333" font-weight="normal" font-style="normal" >−1</text>
<line x1="547.5" y1="1239.3" x2="557.0" y2="1239.3" stroke="#777" stroke-width="1.6" />
<text x="535.5" y="1247.5" font-family="'Liberation Sans', Arial, sans-serif" font-size="22.5" text-anchor="end" fill="#333" font-weight="normal" font-style="normal" >−2</text>
<line x1="547.5" y1="1305.2" x2="557.0" y2="1305.2" stroke="#777" stroke-width="1.6" />
<text x="535.5" y="1313.4" font-family="'Liberation Sans', Arial, sans-serif" font-size="22.5" text-anchor="end" fill="#333" font-weight="normal" font-style="normal" >−3</text>
<line x1="547.5" y1="1371.1" x2="557.0" y2="1371.1" stroke="#777" stroke-width="1.6" />
<text x="535.5" y="1379.3" font-family="'Liberation Sans', Arial, sans-serif" font-size="22.5" text-anchor="end" fill="#333" font-weight="normal" font-style="normal" >−4</text>
<text x="518.5" y="1115" font-family="'Liberation Sans', Arial, sans-serif" font-size="23.5" font-style="italic" fill="#333">E<tspan font-size="16" font-style="normal" dy="7.5">F</tspan></text>
<line x1="663.2" y1="1437.7" x2="663.2" y2="1447.2" stroke="#777" stroke-width="1.6" />
<line x1="769.4" y1="1437.7" x2="769.4" y2="1447.2" stroke="#777" stroke-width="1.6" />
<line x1="875.8" y1="1437.7" x2="875.8" y2="1447.2" stroke="#777" stroke-width="1.6" />
<text x="664.4" y="1476" text-anchor="middle" font-family="'Liberation Sans', Arial, sans-serif" font-size="21.5" fill="#333" textLength="34" lengthAdjust="spacingAndGlyphs">0.4</text>
<text x="770.6" y="1476" text-anchor="middle" font-family="'Liberation Sans', Arial, sans-serif" font-size="21.5" fill="#333" textLength="34" lengthAdjust="spacingAndGlyphs">0.8</text>
<text x="559.8" y="1476.0" font-family="'Liberation Serif', 'Times New Roman', serif" font-size="22" text-anchor="middle" fill="#333" font-weight="normal" font-style="normal" >Γ</text>
<text x="896.0" y="1476.0" font-family="'Liberation Sans', Arial, sans-serif" font-size="21.5" text-anchor="middle" fill="#333" font-weight="normal" font-style="normal" >K</text>
<text x="726.3" y="1516.5" text-anchor="middle" font-family="'Liberation Sans', Arial, sans-serif" font-size="21.5" fill="#333"><tspan font-style="italic">k</tspan><tspan font-style="italic" font-size="15" dy="5">y</tspan><tspan dy="-5">(1/Å)</tspan></text>
<text x="726.6" y="1083.4" text-anchor="middle" font-family="'Liberation Sans', Arial, sans-serif" font-size="23.5" fill="#333">Bilayer</text>
<text transform="translate(490.0,1376) rotate(-90)" font-family="'Liberation Sans', Arial, sans-serif" font-size="24" fill="#444" textLength="210" lengthAdjust="spacingAndGlyphs">Binding energy (eV)</text>
<clipPath id="clipe2"><rect x="1012.5" y="1100.4" width="337.9000000000001" height="337.29999999999995"/></clipPath>
<g clip-path="url(#clipe2)"><g filter="url(#cmapE)"><rect x="992.5" y="1080.4" width="377.9000000000001" height="377.29999999999995" fill="#000"/>
<path d="M1008.1,1309.1 C1019.9,1289.2 1056.1,1319.1 1079.1,1326.8 C1102.0,1334.5 1127.2,1343.1 1145.7,1355.2 C1164.2,1367.4 1180.8,1384.4 1190.0,1399.6 C1199.3,1414.8 1231.5,1438.4 1201.1,1446.2 C1170.8,1454.0 1040.2,1469.1 1008.1,1446.2 C975.9,1423.4 996.2,1329.0 1008.1,1309.1 Z" fill="rgb(13,13,13)" filter="url(#b13_5)"/>
<path d="M1008.1,1199.9 C1021.7,1197.3 1072.8,1201.0 1090.2,1204.3 C1107.6,1207.6 1126.1,1217.3 1112.4,1219.8 C1098.7,1222.4 1025.4,1223.2 1008.1,1219.8 C990.7,1216.5 994.4,1202.5 1008.1,1199.9 Z" fill="rgb(36,36,36)" filter="url(#b6_5)"/>
<path d="M1008.1,1242.0 C1031.0,1240.6 1119.0,1242.0 1145.7,1244.3 C1172.3,1246.5 1171.6,1251.3 1167.9,1255.4 C1164.2,1259.4 1150.1,1269.0 1123.5,1268.7 C1096.8,1268.3 1027.3,1257.6 1008.1,1253.1 C988.8,1248.7 985.1,1243.5 1008.1,1242.0 Z" fill="rgb(51,51,51)" filter="url(#b6_5)"/>
<ellipse cx="1163.4" cy="1284.2" rx="51.0" ry="28.9" fill="rgb(107,107,107)" filter="url(#b10_0)"/>
<path d="M1090.2,1268.7 C1097.6,1269.8 1119.8,1273.1 1134.6,1275.3 C1149.4,1277.5 1164.2,1278.7 1178.9,1282.0 C1193.7,1285.3 1208.5,1290.1 1223.3,1295.3 C1238.1,1300.5 1252.9,1308.2 1267.7,1313.1 C1282.5,1317.9 1296.9,1321.2 1312.1,1324.2 C1327.3,1327.1 1350.9,1329.7 1358.7,1330.8" fill="none" stroke="rgb(97,97,97)" stroke-width="24.4" stroke-linecap="round" stroke-linejoin="round" filter="url(#b7_0)"/>
<path d="M1136.8,1339.7 C1143.8,1342.3 1164.5,1350.4 1178.9,1355.2 C1193.4,1360.0 1208.5,1364.5 1223.3,1368.5 C1238.1,1372.6 1252.9,1377.0 1267.7,1379.6 C1282.5,1382.2 1296.9,1383.7 1312.1,1384.1 C1327.3,1384.4 1350.9,1382.2 1358.7,1381.9" fill="none" stroke="rgb(64,64,64)" stroke-width="22.2" stroke-linecap="round" stroke-linejoin="round" filter="url(#b8_0)"/>
<path d="M1005.8,1188.8 C1014.3,1189.3 1042.8,1189.5 1056.9,1192.1 C1070.9,1194.7 1080.9,1200.2 1090.2,1204.3 C1099.4,1208.4 1103.1,1212.3 1112.4,1216.5 C1121.6,1220.8 1140.1,1227.6 1145.7,1229.8" fill="none" stroke="rgb(120,120,120)" stroke-width="17.8" stroke-linecap="round" stroke-linejoin="round" filter="url(#b6_0)"/>
<path d="M1005.8,1230.9 C1014.3,1231.1 1041.0,1231.3 1056.9,1232.0 C1072.8,1232.8 1088.3,1234.3 1101.3,1235.4 C1114.2,1236.5 1123.5,1237.6 1134.6,1238.7 C1145.7,1239.8 1156.8,1242.2 1167.9,1242.0 C1178.9,1241.9 1190.0,1239.6 1201.1,1237.6 C1212.2,1235.6 1223.3,1233.2 1234.4,1229.8 C1245.5,1226.5 1256.6,1221.5 1267.7,1217.6 C1278.8,1213.7 1289.9,1209.5 1301.0,1206.5 C1312.1,1203.6 1324.7,1201.3 1334.3,1199.9 C1343.9,1198.4 1354.6,1198.0 1358.7,1197.7" fill="none" stroke="rgb(148,148,148)" stroke-width="20.0" stroke-linecap="round" stroke-linejoin="round" filter="url(#b6_0)"/>
<path d="M1181.2,1240.9 C1184.5,1240.4 1192.3,1239.4 1201.1,1237.6 C1210.0,1235.7 1223.3,1233.2 1234.4,1229.8 C1245.5,1226.5 1262.2,1219.7 1267.7,1217.6" fill="none" stroke="rgb(163,163,163)" stroke-width="17.8" stroke-linecap="round" stroke-linejoin="round" filter="url(#b6_5)"/>
<path d="M1234.4,1229.8 C1240.0,1227.8 1256.6,1221.5 1267.7,1217.6 C1278.8,1213.7 1289.9,1209.4 1301.0,1206.5 C1312.1,1203.6 1324.7,1201.7 1334.3,1200.3 C1343.9,1198.9 1354.6,1198.5 1358.7,1198.1" fill="none" stroke="rgb(184,184,184)" stroke-width="16.0" stroke-linecap="round" stroke-linejoin="round" filter="url(#b6_5)"/>
<path d="M1008.1,1248.0 C1012.5,1239.8 1026.6,1248.2 1034.7,1249.6 C1042.8,1251.0 1049.5,1253.1 1056.9,1256.2 C1064.3,1259.4 1071.7,1264.4 1079.1,1268.7 C1086.5,1273.0 1094.6,1277.9 1101.3,1282.0 C1107.9,1286.1 1113.7,1289.4 1119.0,1293.1 C1124.4,1296.8 1130.3,1301.1 1133.5,1304.2 C1136.6,1307.2 1137.3,1306.4 1137.9,1311.3 C1138.5,1316.2 1138.0,1328.4 1137.2,1333.5 C1136.5,1338.6 1137.6,1341.9 1133.5,1341.9 C1129.3,1341.9 1119.6,1336.5 1112.4,1333.5 C1105.2,1330.4 1096.5,1326.8 1090.2,1323.5 C1083.9,1320.2 1080.2,1316.6 1074.6,1313.5 C1069.1,1310.4 1063.5,1307.0 1056.9,1304.6 C1050.2,1302.2 1042.8,1300.0 1034.7,1299.1 C1026.6,1298.1 1012.5,1307.6 1008.1,1299.1 C1003.6,1290.6 1003.6,1256.3 1008.1,1248.0 Z" fill="rgb(158,158,158)" filter="url(#b11_0)"/>
<path d="M1008.1,1248.0 C1012.5,1239.8 1026.6,1248.2 1034.7,1249.6 C1042.8,1251.0 1049.5,1253.1 1056.9,1256.2 C1064.3,1259.4 1071.7,1264.4 1079.1,1268.7 C1086.5,1273.0 1094.6,1277.9 1101.3,1282.0 C1107.9,1286.1 1113.7,1289.4 1119.0,1293.1 C1124.4,1296.8 1130.3,1301.1 1133.5,1304.2 C1136.6,1307.2 1137.3,1306.4 1137.9,1311.3 C1138.5,1316.2 1138.0,1328.4 1137.2,1333.5 C1136.5,1338.6 1137.6,1341.9 1133.5,1341.9 C1129.3,1341.9 1119.6,1336.5 1112.4,1333.5 C1105.2,1330.4 1096.5,1326.8 1090.2,1323.5 C1083.9,1320.2 1080.2,1316.6 1074.6,1313.5 C1069.1,1310.4 1063.5,1307.0 1056.9,1304.6 C1050.2,1302.2 1042.8,1300.0 1034.7,1299.1 C1026.6,1298.1 1012.5,1307.6 1008.1,1299.1 C1003.6,1290.6 1003.6,1256.3 1008.1,1248.0 Z" fill="rgb(255,255,255)" filter="url(#b3_5)"/>
</g></g>
<line x1="1025.5" y1="1108.4" x2="1337.4" y2="1108.4" stroke="#e0cc10" stroke-width="2.8" stroke-dasharray="10.5 7"/>
<line x1="1014.8" y1="1178.0" x2="1220.3" y2="1178.0" stroke="#e8e8e8" stroke-width="2.6" stroke-dasharray="3.6 5.4"/>
<line x1="1125.6" y1="1193.2" x2="1350.4" y2="1193.2" stroke="#4aa83a" stroke-width="2.6" stroke-dasharray="3.6 5.4"/>
<text x="1134.6" y="1171.7" font-family="'Liberation Sans', Arial, sans-serif" font-size="25" fill="#fff" textLength="93" lengthAdjust="spacingAndGlyphs">−1.09 eV</text>
<text x="1134.6" y="1216.7" font-family="'Liberation Sans', Arial, sans-serif" font-size="25" fill="#4aa83a" textLength="91" lengthAdjust="spacingAndGlyphs">−1.32 eV</text>
<line x1="1003.0" y1="1107.5" x2="1012.5" y2="1107.5" stroke="#777" stroke-width="1.6" />
<line x1="1003.0" y1="1173.4" x2="1012.5" y2="1173.4" stroke="#777" stroke-width="1.6" />
<text x="991.0" y="1181.6" font-family="'Liberation Sans', Arial, sans-serif" font-size="22.5" text-anchor="end" fill="#333" font-weight="normal" font-style="normal" >−1</text>
<line x1="1003.0" y1="1239.3" x2="1012.5" y2="1239.3" stroke="#777" stroke-width="1.6" />
<text x="991.0" y="1247.5" font-family="'Liberation Sans', Arial, sans-serif" font-size="22.5" text-anchor="end" fill="#333" font-weight="normal" font-style="normal" >−2</text>
<line x1="1003.0" y1="1305.2" x2="1012.5" y2="1305.2" stroke="#777" stroke-width="1.6" />
<text x="991.0" y="1313.4" font-family="'Liberation Sans', Arial, sans-serif" font-size="22.5" text-anchor="end" fill="#333" font-weight="normal" font-style="normal" >−3</text>
<line x1="1003.0" y1="1371.1" x2="1012.5" y2="1371.1" stroke="#777" stroke-width="1.6" />
<text x="991.0" y="1379.3" font-family="'Liberation Sans', Arial, sans-serif" font-size="22.5" text-anchor="end" fill="#333" font-weight="normal" font-style="normal" >−4</text>
<text x="974.0" y="1115" font-family="'Liberation Sans', Arial, sans-serif" font-size="23.5" font-style="italic" fill="#333">E<tspan font-size="16" font-style="normal" dy="7.5">F</tspan></text>
<line x1="1118.7" y1="1437.7" x2="1118.7" y2="1447.2" stroke="#777" stroke-width="1.6" />
<line x1="1224.9" y1="1437.7" x2="1224.9" y2="1447.2" stroke="#777" stroke-width="1.6" />
<line x1="1331.3" y1="1437.7" x2="1331.3" y2="1447.2" stroke="#777" stroke-width="1.6" />
<text x="1119.2" y="1476" text-anchor="middle" font-family="'Liberation Sans', Arial, sans-serif" font-size="21.5" fill="#333" textLength="34" lengthAdjust="spacingAndGlyphs">0.4</text>
<text x="1225.4" y="1476" text-anchor="middle" font-family="'Liberation Sans', Arial, sans-serif" font-size="21.5" fill="#333" textLength="34" lengthAdjust="spacingAndGlyphs">0.8</text>
<text x="1015.6" y="1476.0" font-family="'Liberation Serif', 'Times New Roman', serif" font-size="22" text-anchor="middle" fill="#333" font-weight="normal" font-style="normal" >Γ</text>
<text x="1351.9" y="1476.0" font-family="'Liberation Sans', Arial, sans-serif" font-size="21.5" text-anchor="middle" fill="#333" font-weight="normal" font-style="normal" >K</text>
<text x="1182.9" y="1516.5" text-anchor="middle" font-family="'Liberation Sans', Arial, sans-serif" font-size="21.5" fill="#333"><tspan font-style="italic">k</tspan><tspan font-style="italic" font-size="15" dy="5">y</tspan><tspan dy="-5">(1/Å)</tspan></text>
<text x="1181.8" y="1083.4" text-anchor="middle" font-family="'Liberation Sans', Arial, sans-serif" font-size="23.5" fill="#333">Trilayer</text>
<text transform="translate(945.5,1376) rotate(-90)" font-family="'Liberation Sans', Arial, sans-serif" font-size="24" fill="#444" textLength="210" lengthAdjust="spacingAndGlyphs">Binding energy (eV)</text>
<clipPath id="clipe3"><rect x="1475.4" y="1100.4" width="337.39999999999986" height="337.29999999999995"/></clipPath>
<g clip-path="url(#clipe3)"><g filter="url(#cmapE)"><rect x="1455.4" y="1080.4" width="377.39999999999986" height="377.29999999999995" fill="#000"/>
<path d="M1471.0,1303.1 C1482.8,1282.2 1519.0,1312.1 1542.0,1320.8 C1564.9,1329.5 1590.1,1342.1 1608.6,1355.2 C1627.1,1368.4 1643.7,1384.4 1652.9,1399.6 C1662.2,1414.8 1694.4,1438.4 1664.0,1446.2 C1633.7,1454.0 1503.1,1470.1 1471.0,1446.2 C1438.8,1422.4 1459.1,1324.0 1471.0,1303.1 Z" fill="rgb(13,13,13)" filter="url(#b13_5)"/>
<path d="M1471.0,1192.1 C1484.6,1188.2 1535.7,1191.9 1553.1,1196.5 C1570.5,1201.2 1589.0,1216.0 1575.3,1219.8 C1561.6,1223.7 1488.3,1224.5 1471.0,1219.8 C1453.6,1215.2 1457.3,1196.0 1471.0,1192.1 Z" fill="rgb(36,36,36)" filter="url(#b6_5)"/>
<path d="M1471.0,1239.8 C1493.9,1238.3 1581.9,1241.7 1608.6,1244.3 C1635.2,1246.8 1634.5,1251.3 1630.8,1255.4 C1627.1,1259.4 1613.0,1269.0 1586.4,1268.7 C1559.7,1268.3 1490.2,1257.9 1471.0,1253.1 C1451.7,1248.3 1448.0,1241.3 1471.0,1239.8 Z" fill="rgb(51,51,51)" filter="url(#b6_5)"/>
<ellipse cx="1626.3" cy="1284.2" rx="51.0" ry="28.9" fill="rgb(107,107,107)" filter="url(#b10_0)"/>
<path d="M1553.1,1268.7 C1560.5,1269.8 1582.7,1273.1 1597.5,1275.3 C1612.3,1277.5 1627.1,1278.7 1641.8,1282.0 C1656.6,1285.3 1671.4,1290.1 1686.2,1295.3 C1701.0,1300.5 1715.8,1308.2 1730.6,1313.1 C1745.4,1317.9 1759.8,1321.2 1775.0,1324.2 C1790.2,1327.1 1813.8,1329.7 1821.6,1330.8" fill="none" stroke="rgb(97,97,97)" stroke-width="24.4" stroke-linecap="round" stroke-linejoin="round" filter="url(#b7_0)"/>
<path d="M1599.7,1339.7 C1606.7,1342.3 1627.4,1350.4 1641.8,1355.2 C1656.3,1360.0 1671.4,1364.5 1686.2,1368.5 C1701.0,1372.6 1715.8,1377.0 1730.6,1379.6 C1745.4,1382.2 1759.8,1383.7 1775.0,1384.1 C1790.2,1384.4 1813.8,1382.2 1821.6,1381.9" fill="none" stroke="rgb(64,64,64)" stroke-width="22.2" stroke-linecap="round" stroke-linejoin="round" filter="url(#b8_0)"/>
<path d="M1468.7,1181.0 C1477.2,1181.6 1505.7,1181.7 1519.8,1184.3 C1533.8,1186.9 1543.8,1191.2 1553.1,1196.5 C1562.3,1201.9 1566.0,1211.0 1575.3,1216.5 C1584.5,1222.1 1603.0,1227.6 1608.6,1229.8" fill="none" stroke="rgb(115,115,115)" stroke-width="26.6" stroke-linecap="round" stroke-linejoin="round" filter="url(#b6_0)"/>
<path d="M1468.7,1228.7 C1477.2,1228.9 1503.9,1229.1 1519.8,1229.8 C1535.7,1230.6 1551.2,1231.7 1564.2,1233.2 C1577.1,1234.6 1586.4,1237.2 1597.5,1238.7 C1608.6,1240.2 1619.7,1242.2 1630.8,1242.0 C1641.8,1241.9 1652.9,1239.9 1664.0,1237.6 C1675.1,1235.3 1686.2,1231.8 1697.3,1228.0 C1708.4,1224.2 1719.5,1219.4 1730.6,1214.8 C1741.7,1210.3 1752.8,1204.4 1763.9,1201.0 C1775.0,1197.6 1787.6,1195.8 1797.2,1194.3 C1806.8,1192.8 1817.5,1192.5 1821.6,1192.1" fill="none" stroke="rgb(148,148,148)" stroke-width="20.0" stroke-linecap="round" stroke-linejoin="round" filter="url(#b6_0)"/>
<path d="M1644.1,1240.9 C1647.4,1240.4 1655.2,1239.8 1664.0,1237.6 C1672.9,1235.4 1686.2,1231.8 1697.3,1228.0 C1708.4,1224.2 1725.1,1217.0 1730.6,1214.8" fill="none" stroke="rgb(163,163,163)" stroke-width="17.8" stroke-linecap="round" stroke-linejoin="round" filter="url(#b6_5)"/>
<path d="M1697.3,1228.0 C1702.9,1225.8 1719.5,1219.4 1730.6,1214.8 C1741.7,1210.3 1752.8,1204.3 1763.9,1201.0 C1775.0,1197.6 1787.6,1196.2 1797.2,1194.8 C1806.8,1193.4 1817.5,1192.9 1821.6,1192.5" fill="none" stroke="rgb(184,184,184)" stroke-width="16.0" stroke-linecap="round" stroke-linejoin="round" filter="url(#b6_5)"/>
<path d="M1471.0,1242.0 C1475.4,1233.8 1489.5,1242.2 1497.6,1243.6 C1505.7,1245.0 1512.4,1247.1 1519.8,1250.2 C1527.2,1253.4 1534.6,1258.4 1542.0,1262.7 C1549.4,1267.0 1557.5,1271.9 1564.2,1276.0 C1570.8,1280.1 1576.6,1283.4 1581.9,1287.1 C1587.3,1290.8 1593.2,1295.2 1596.4,1298.2 C1599.5,1301.2 1600.2,1300.4 1600.8,1305.3 C1601.4,1310.2 1600.9,1322.4 1600.1,1327.5 C1599.4,1332.6 1600.5,1335.9 1596.4,1335.9 C1592.2,1335.9 1582.5,1330.6 1575.3,1327.5 C1568.1,1324.4 1559.4,1320.8 1553.1,1317.5 C1546.8,1314.2 1543.1,1310.7 1537.5,1307.5 C1532.0,1304.4 1526.4,1301.0 1519.8,1298.6 C1513.1,1296.2 1505.7,1294.0 1497.6,1293.1 C1489.5,1292.2 1475.4,1301.6 1471.0,1293.1 C1466.5,1284.6 1466.5,1250.3 1471.0,1242.0 Z" fill="rgb(158,158,158)" filter="url(#b11_0)"/>
<path d="M1471.0,1242.0 C1475.4,1233.8 1489.5,1242.2 1497.6,1243.6 C1505.7,1245.0 1512.4,1247.1 1519.8,1250.2 C1527.2,1253.4 1534.6,1258.4 1542.0,1262.7 C1549.4,1267.0 1557.5,1271.9 1564.2,1276.0 C1570.8,1280.1 1576.6,1283.4 1581.9,1287.1 C1587.3,1290.8 1593.2,1295.2 1596.4,1298.2 C1599.5,1301.2 1600.2,1300.4 1600.8,1305.3 C1601.4,1310.2 1600.9,1322.4 1600.1,1327.5 C1599.4,1332.6 1600.5,1335.9 1596.4,1335.9 C1592.2,1335.9 1582.5,1330.6 1575.3,1327.5 C1568.1,1324.4 1559.4,1320.8 1553.1,1317.5 C1546.8,1314.2 1543.1,1310.7 1537.5,1307.5 C1532.0,1304.4 1526.4,1301.0 1519.8,1298.6 C1513.1,1296.2 1505.7,1294.0 1497.6,1293.1 C1489.5,1292.2 1475.4,1301.6 1471.0,1293.1 C1466.5,1284.6 1466.5,1250.3 1471.0,1242.0 Z" fill="rgb(255,255,255)" filter="url(#b3_5)"/>
</g></g>
<line x1="1488.4" y1="1108.4" x2="1799.8" y2="1108.4" stroke="#e0cc10" stroke-width="2.8" stroke-dasharray="10.5 7"/>
<line x1="1476.0" y1="1172.3" x2="1665.8" y2="1172.3" stroke="#e8e8e8" stroke-width="2.6" stroke-dasharray="3.6 5.4"/>
<line x1="1588.7" y1="1185.1" x2="1812.8" y2="1185.1" stroke="#4aa83a" stroke-width="2.6" stroke-dasharray="3.6 5.4"/>
<text x="1596.7" y="1163.6" font-family="'Liberation Sans', Arial, sans-serif" font-size="25" fill="#fff" textLength="98" lengthAdjust="spacingAndGlyphs">−0.98 eV</text>
<text x="1596.7" y="1213.4" font-family="'Liberation Sans', Arial, sans-serif" font-size="25" fill="#4aa83a" textLength="90" lengthAdjust="spacingAndGlyphs">−1.22 eV</text>
<line x1="1465.9" y1="1107.5" x2="1475.4" y2="1107.5" stroke="#777" stroke-width="1.6" />
<line x1="1465.9" y1="1173.4" x2="1475.4" y2="1173.4" stroke="#777" stroke-width="1.6" />
<text x="1453.9" y="1181.6" font-family="'Liberation Sans', Arial, sans-serif" font-size="22.5" text-anchor="end" fill="#333" font-weight="normal" font-style="normal" >−1</text>
<line x1="1465.9" y1="1239.3" x2="1475.4" y2="1239.3" stroke="#777" stroke-width="1.6" />
<text x="1453.9" y="1247.5" font-family="'Liberation Sans', Arial, sans-serif" font-size="22.5" text-anchor="end" fill="#333" font-weight="normal" font-style="normal" >−2</text>
<line x1="1465.9" y1="1305.2" x2="1475.4" y2="1305.2" stroke="#777" stroke-width="1.6" />
<text x="1453.9" y="1313.4" font-family="'Liberation Sans', Arial, sans-serif" font-size="22.5" text-anchor="end" fill="#333" font-weight="normal" font-style="normal" >−3</text>
<line x1="1465.9" y1="1371.1" x2="1475.4" y2="1371.1" stroke="#777" stroke-width="1.6" />
<text x="1453.9" y="1379.3" font-family="'Liberation Sans', Arial, sans-serif" font-size="22.5" text-anchor="end" fill="#333" font-weight="normal" font-style="normal" >−4</text>
<text x="1436.9" y="1115" font-family="'Liberation Sans', Arial, sans-serif" font-size="23.5" font-style="italic" fill="#333">E<tspan font-size="16" font-style="normal" dy="7.5">F</tspan></text>
<line x1="1581.6" y1="1437.7" x2="1581.6" y2="1447.2" stroke="#777" stroke-width="1.6" />
<line x1="1687.8" y1="1437.7" x2="1687.8" y2="1447.2" stroke="#777" stroke-width="1.6" />
<line x1="1794.2" y1="1437.7" x2="1794.2" y2="1447.2" stroke="#777" stroke-width="1.6" />
<text x="1582.1" y="1476" text-anchor="middle" font-family="'Liberation Sans', Arial, sans-serif" font-size="21.5" fill="#333" textLength="34" lengthAdjust="spacingAndGlyphs">0.4</text>
<text x="1688.3" y="1476" text-anchor="middle" font-family="'Liberation Sans', Arial, sans-serif" font-size="21.5" fill="#333" textLength="34" lengthAdjust="spacingAndGlyphs">0.8</text>
<text x="1478.5" y="1476.0" font-family="'Liberation Serif', 'Times New Roman', serif" font-size="22" text-anchor="middle" fill="#333" font-weight="normal" font-style="normal" >Γ</text>
<text x="1815.2" y="1476.0" font-family="'Liberation Sans', Arial, sans-serif" font-size="21.5" text-anchor="middle" fill="#333" font-weight="normal" font-style="normal" >K</text>
<text x="1645.9" y="1516.5" text-anchor="middle" font-family="'Liberation Sans', Arial, sans-serif" font-size="21.5" fill="#333"><tspan font-style="italic">k</tspan><tspan font-style="italic" font-size="15" dy="5">y</tspan><tspan dy="-5">(1/Å)</tspan></text>
<text x="1643.3" y="1083.4" text-anchor="middle" font-family="'Liberation Sans', Arial, sans-serif" font-size="23.5" fill="#333">8 ML</text>
<text transform="translate(1408.4,1376) rotate(-90)" font-family="'Liberation Sans', Arial, sans-serif" font-size="24" fill="#444" textLength="210" lengthAdjust="spacingAndGlyphs">Binding energy (eV)</text>
</svg></body></html>
